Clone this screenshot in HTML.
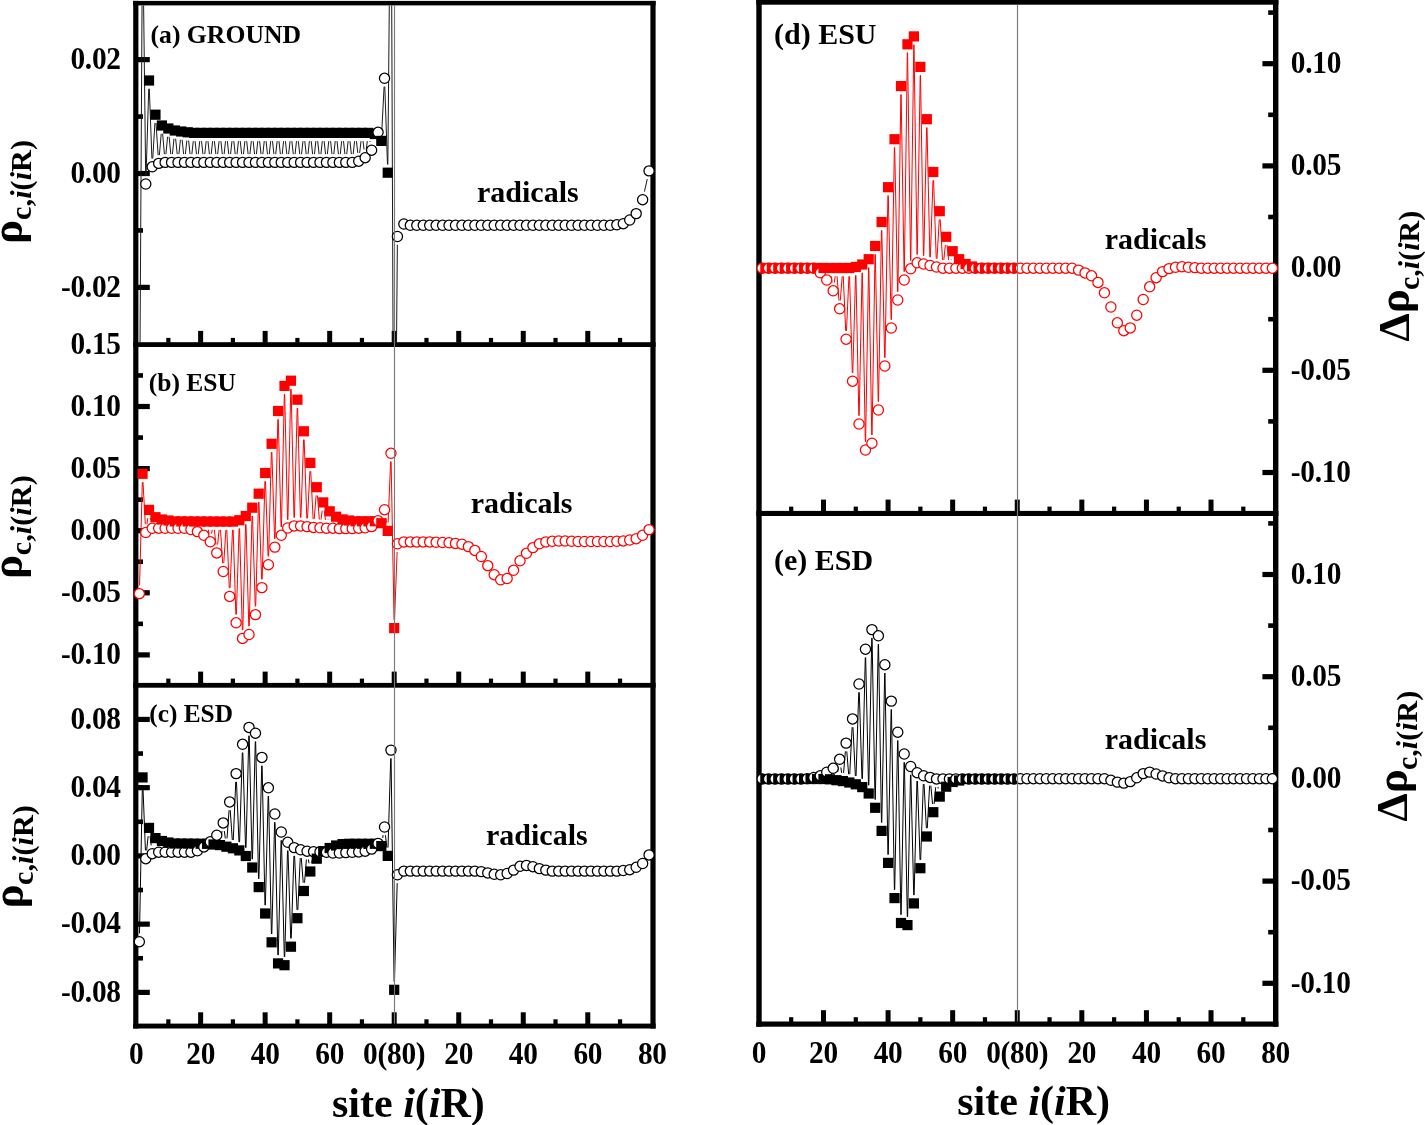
<!DOCTYPE html>
<html><head><meta charset="utf-8"><title>figure</title><style>html,body{margin:0;padding:0;background:#fff;overflow:hidden}svg{display:block}</style></head><body>
<svg width="1425" height="1125" viewBox="0 0 1425 1125" font-family="'Liberation Serif', 'Times New Roman', serif" font-weight="bold">
<rect width="100%" height="100%" fill="#fff"/>
<defs>
<clipPath id="ca"><rect x="133.2" y="5.4" width="522.4000000000001" height="336.8"/></clipPath>
<clipPath id="cb"><rect x="133.2" y="347.0" width="522.4000000000001" height="335.9"/></clipPath>
<clipPath id="cc"><rect x="133.2" y="687.7" width="522.4000000000001" height="335.9"/></clipPath>
<clipPath id="cd"><rect x="756.3" y="4.7" width="522.1000000000001" height="506.2"/></clipPath>
<clipPath id="ce"><rect x="756.3" y="516.0" width="522.1000000000001" height="505.5"/></clipPath>
</defs>
<rect x="133.20" y="0.90" width="5.20" height="1027.60" fill="#000"/>
<rect x="650.40" y="0.90" width="5.20" height="1027.60" fill="#000"/>
<rect x="133.20" y="0.90" width="522.40" height="4.50" fill="#000"/>
<rect x="133.20" y="342.20" width="522.40" height="4.80" fill="#000"/>
<rect x="133.20" y="682.90" width="522.40" height="4.80" fill="#000"/>
<rect x="133.20" y="1023.60" width="522.40" height="4.90" fill="#000"/>
<rect x="756.30" y="0.00" width="5.40" height="1026.70" fill="#000"/>
<rect x="1273.00" y="0.00" width="5.40" height="1026.70" fill="#000"/>
<rect x="756.30" y="0.00" width="522.10" height="4.70" fill="#000"/>
<rect x="756.30" y="510.90" width="522.10" height="5.10" fill="#000"/>
<rect x="756.30" y="1021.50" width="522.10" height="5.20" fill="#000"/>
<rect x="166.26" y="337.90" width="4.20" height="4.80" fill="#000"/>
<rect x="198.13" y="330.90" width="5.00" height="11.80" fill="#000"/>
<rect x="230.79" y="337.90" width="4.20" height="4.80" fill="#000"/>
<rect x="262.65" y="330.90" width="5.00" height="11.80" fill="#000"/>
<rect x="295.31" y="337.90" width="4.20" height="4.80" fill="#000"/>
<rect x="327.18" y="330.90" width="5.00" height="11.80" fill="#000"/>
<rect x="359.84" y="337.90" width="4.20" height="4.80" fill="#000"/>
<rect x="391.70" y="330.90" width="5.00" height="11.80" fill="#000"/>
<rect x="424.37" y="337.90" width="4.20" height="4.80" fill="#000"/>
<rect x="456.23" y="330.90" width="5.00" height="11.80" fill="#000"/>
<rect x="488.89" y="337.90" width="4.20" height="4.80" fill="#000"/>
<rect x="520.76" y="330.90" width="5.00" height="11.80" fill="#000"/>
<rect x="553.42" y="337.90" width="4.20" height="4.80" fill="#000"/>
<rect x="585.28" y="330.90" width="5.00" height="11.80" fill="#000"/>
<rect x="617.95" y="337.90" width="4.20" height="4.80" fill="#000"/>
<rect x="166.26" y="678.60" width="4.20" height="4.80" fill="#000"/>
<rect x="198.13" y="671.60" width="5.00" height="11.80" fill="#000"/>
<rect x="230.79" y="678.60" width="4.20" height="4.80" fill="#000"/>
<rect x="262.65" y="671.60" width="5.00" height="11.80" fill="#000"/>
<rect x="295.31" y="678.60" width="4.20" height="4.80" fill="#000"/>
<rect x="327.18" y="671.60" width="5.00" height="11.80" fill="#000"/>
<rect x="359.84" y="678.60" width="4.20" height="4.80" fill="#000"/>
<rect x="391.70" y="671.60" width="5.00" height="11.80" fill="#000"/>
<rect x="424.37" y="678.60" width="4.20" height="4.80" fill="#000"/>
<rect x="456.23" y="671.60" width="5.00" height="11.80" fill="#000"/>
<rect x="488.89" y="678.60" width="4.20" height="4.80" fill="#000"/>
<rect x="520.76" y="671.60" width="5.00" height="11.80" fill="#000"/>
<rect x="553.42" y="678.60" width="4.20" height="4.80" fill="#000"/>
<rect x="585.28" y="671.60" width="5.00" height="11.80" fill="#000"/>
<rect x="617.95" y="678.60" width="4.20" height="4.80" fill="#000"/>
<rect x="166.26" y="1019.30" width="4.20" height="4.80" fill="#000"/>
<rect x="198.13" y="1012.30" width="5.00" height="11.80" fill="#000"/>
<rect x="230.79" y="1019.30" width="4.20" height="4.80" fill="#000"/>
<rect x="262.65" y="1012.30" width="5.00" height="11.80" fill="#000"/>
<rect x="295.31" y="1019.30" width="4.20" height="4.80" fill="#000"/>
<rect x="327.18" y="1012.30" width="5.00" height="11.80" fill="#000"/>
<rect x="359.84" y="1019.30" width="4.20" height="4.80" fill="#000"/>
<rect x="391.70" y="1012.30" width="5.00" height="11.80" fill="#000"/>
<rect x="424.37" y="1019.30" width="4.20" height="4.80" fill="#000"/>
<rect x="456.23" y="1012.30" width="5.00" height="11.80" fill="#000"/>
<rect x="488.89" y="1019.30" width="4.20" height="4.80" fill="#000"/>
<rect x="520.76" y="1012.30" width="5.00" height="11.80" fill="#000"/>
<rect x="553.42" y="1019.30" width="4.20" height="4.80" fill="#000"/>
<rect x="585.28" y="1012.30" width="5.00" height="11.80" fill="#000"/>
<rect x="617.95" y="1019.30" width="4.20" height="4.80" fill="#000"/>
<rect x="789.09" y="506.60" width="4.20" height="4.80" fill="#000"/>
<rect x="820.99" y="499.60" width="5.00" height="11.80" fill="#000"/>
<rect x="853.68" y="506.60" width="4.20" height="4.80" fill="#000"/>
<rect x="885.58" y="499.60" width="5.00" height="11.80" fill="#000"/>
<rect x="918.27" y="506.60" width="4.20" height="4.80" fill="#000"/>
<rect x="950.16" y="499.60" width="5.00" height="11.80" fill="#000"/>
<rect x="982.86" y="506.60" width="4.20" height="4.80" fill="#000"/>
<rect x="1014.75" y="499.60" width="5.00" height="11.80" fill="#000"/>
<rect x="1047.45" y="506.60" width="4.20" height="4.80" fill="#000"/>
<rect x="1079.34" y="499.60" width="5.00" height="11.80" fill="#000"/>
<rect x="1112.03" y="506.60" width="4.20" height="4.80" fill="#000"/>
<rect x="1143.93" y="499.60" width="5.00" height="11.80" fill="#000"/>
<rect x="1176.62" y="506.60" width="4.20" height="4.80" fill="#000"/>
<rect x="1208.52" y="499.60" width="5.00" height="11.80" fill="#000"/>
<rect x="1241.21" y="506.60" width="4.20" height="4.80" fill="#000"/>
<rect x="789.09" y="1017.20" width="4.20" height="4.80" fill="#000"/>
<rect x="820.99" y="1010.20" width="5.00" height="11.80" fill="#000"/>
<rect x="853.68" y="1017.20" width="4.20" height="4.80" fill="#000"/>
<rect x="885.58" y="1010.20" width="5.00" height="11.80" fill="#000"/>
<rect x="918.27" y="1017.20" width="4.20" height="4.80" fill="#000"/>
<rect x="950.16" y="1010.20" width="5.00" height="11.80" fill="#000"/>
<rect x="982.86" y="1017.20" width="4.20" height="4.80" fill="#000"/>
<rect x="1014.75" y="1010.20" width="5.00" height="11.80" fill="#000"/>
<rect x="1047.45" y="1017.20" width="4.20" height="4.80" fill="#000"/>
<rect x="1079.34" y="1010.20" width="5.00" height="11.80" fill="#000"/>
<rect x="1112.03" y="1017.20" width="4.20" height="4.80" fill="#000"/>
<rect x="1143.93" y="1010.20" width="5.00" height="11.80" fill="#000"/>
<rect x="1176.62" y="1017.20" width="4.20" height="4.80" fill="#000"/>
<rect x="1208.52" y="1010.20" width="5.00" height="11.80" fill="#000"/>
<rect x="1241.21" y="1017.20" width="4.20" height="4.80" fill="#000"/>
<rect x="137.90" y="57.02" width="11.90" height="5.20" fill="#000"/>
<rect x="137.90" y="170.90" width="11.90" height="5.20" fill="#000"/>
<rect x="137.90" y="284.78" width="11.90" height="5.20" fill="#000"/>
<rect x="137.90" y="114.26" width="5.10" height="4.60" fill="#000"/>
<rect x="137.90" y="228.14" width="5.10" height="4.60" fill="#000"/>
<rect x="137.90" y="403.90" width="11.90" height="5.20" fill="#000"/>
<rect x="137.90" y="466.00" width="11.90" height="5.20" fill="#000"/>
<rect x="137.90" y="528.10" width="11.90" height="5.20" fill="#000"/>
<rect x="137.90" y="590.20" width="11.90" height="5.20" fill="#000"/>
<rect x="137.90" y="652.30" width="11.90" height="5.20" fill="#000"/>
<rect x="137.90" y="373.15" width="5.10" height="4.60" fill="#000"/>
<rect x="137.90" y="435.25" width="5.10" height="4.60" fill="#000"/>
<rect x="137.90" y="497.35" width="5.10" height="4.60" fill="#000"/>
<rect x="137.90" y="559.45" width="5.10" height="4.60" fill="#000"/>
<rect x="137.90" y="621.55" width="5.10" height="4.60" fill="#000"/>
<rect x="137.90" y="716.82" width="11.90" height="5.20" fill="#000"/>
<rect x="137.90" y="785.06" width="11.90" height="5.20" fill="#000"/>
<rect x="137.90" y="853.30" width="11.90" height="5.20" fill="#000"/>
<rect x="137.90" y="921.54" width="11.90" height="5.20" fill="#000"/>
<rect x="137.90" y="989.78" width="11.90" height="5.20" fill="#000"/>
<rect x="137.90" y="751.24" width="5.10" height="4.60" fill="#000"/>
<rect x="137.90" y="819.48" width="5.10" height="4.60" fill="#000"/>
<rect x="137.90" y="887.72" width="5.10" height="4.60" fill="#000"/>
<rect x="137.90" y="955.96" width="5.10" height="4.60" fill="#000"/>
<rect x="1262.40" y="61.10" width="11.10" height="5.20" fill="#000"/>
<rect x="1262.40" y="163.30" width="11.10" height="5.20" fill="#000"/>
<rect x="1262.40" y="265.50" width="11.10" height="5.20" fill="#000"/>
<rect x="1262.40" y="367.70" width="11.10" height="5.20" fill="#000"/>
<rect x="1262.40" y="469.90" width="11.10" height="5.20" fill="#000"/>
<rect x="1268.20" y="10.30" width="5.30" height="4.60" fill="#000"/>
<rect x="1268.20" y="112.50" width="5.30" height="4.60" fill="#000"/>
<rect x="1268.20" y="214.70" width="5.30" height="4.60" fill="#000"/>
<rect x="1268.20" y="316.90" width="5.30" height="4.60" fill="#000"/>
<rect x="1268.20" y="419.10" width="5.30" height="4.60" fill="#000"/>
<rect x="1262.40" y="571.90" width="11.10" height="5.20" fill="#000"/>
<rect x="1262.40" y="674.10" width="11.10" height="5.20" fill="#000"/>
<rect x="1262.40" y="776.30" width="11.10" height="5.20" fill="#000"/>
<rect x="1262.40" y="878.50" width="11.10" height="5.20" fill="#000"/>
<rect x="1262.40" y="980.70" width="11.10" height="5.20" fill="#000"/>
<rect x="1268.20" y="521.10" width="5.30" height="4.60" fill="#000"/>
<rect x="1268.20" y="623.30" width="5.30" height="4.60" fill="#000"/>
<rect x="1268.20" y="725.50" width="5.30" height="4.60" fill="#000"/>
<rect x="1268.20" y="827.70" width="5.30" height="4.60" fill="#000"/>
<rect x="1268.20" y="929.90" width="5.30" height="4.60" fill="#000"/>
<g clip-path="url(#ca)">
<path d="M139.38,456.16L142.50,-73.86M142.65,-73.86L145.68,175.70M146.04,175.70L148.75,88.80M149.32,88.79L151.92,158.51M152.74,158.52L154.94,122.98M156.01,122.98L158.14,155.12M159.39,155.13L161.21,133.77M162.63,133.77L164.41,154.13M165.92,154.14L167.58,136.76M169.15,136.76L170.80,154.14M172.42,154.14L173.98,138.76M175.65,138.76L177.21,154.14M178.90,154.14L180.41,139.76M182.13,139.76L183.63,154.14M185.38,154.15L186.84,140.55M188.61,140.55L190.06,154.15M191.85,154.15L193.27,141.15M195.08,141.15L196.50,154.15M198.30,154.15L199.72,141.15M201.53,141.15L202.95,154.15M204.75,154.15L206.18,141.15M207.98,141.15L209.40,154.15M211.21,154.15L212.63,141.15M214.43,141.15L215.86,154.15M217.66,154.15L219.08,141.15M220.89,141.15L222.31,154.15M224.11,154.15L225.53,141.15M227.34,141.15L228.76,154.15M230.57,154.15L231.99,141.15M233.79,141.15L235.21,154.15M237.02,154.15L238.44,141.15M240.24,141.15L241.67,154.15M243.47,154.15L244.89,141.15M246.70,141.15L248.12,154.15M249.92,154.15L251.34,141.15M253.15,141.15L254.57,154.15M256.38,154.15L257.80,141.15M259.60,141.15L261.02,154.15M262.83,154.15L264.25,141.15M266.05,141.15L267.48,154.15M269.28,154.15L270.70,141.15M272.51,141.15L273.93,154.15M275.73,154.15L277.15,141.15M278.96,141.15L280.38,154.15M282.19,154.15L283.61,141.15M285.41,141.15L286.83,154.15M288.64,154.15L290.06,141.15M291.86,141.15L293.29,154.15M295.09,154.15L296.51,141.15M298.32,141.15L299.74,154.15M301.54,154.15L302.97,141.15M304.77,141.15L306.19,154.15M308.00,154.15L309.42,141.15M311.22,141.15L312.64,154.15M314.45,154.15L315.87,141.15M317.68,141.15L319.10,154.15M320.90,154.15L322.32,141.15M324.13,141.15L325.55,154.15M327.35,154.15L328.78,141.15M330.58,141.15L332.00,154.15M333.81,154.15L335.23,141.15M337.03,141.15L338.45,154.15M340.26,154.15L341.68,141.15M343.49,141.15L344.91,154.15M346.71,154.15L348.13,141.15M349.94,141.15L351.36,154.15M353.16,154.15L354.59,141.15M356.43,141.15L357.77,152.95M359.65,152.95L361.00,141.15M363.01,141.13L364.10,149.47M366.24,149.47L367.32,141.13M369.92,141.06L370.10,142.04M381.73,132.61L384.10,86.59M384.81,86.60L387.47,164.40M387.83,164.40L390.90,-167.81M391.01,-167.81L394.17,614.46M394.27,614.46L397.36,244.80M644.44,191.60L647.27,179.00" fill="none" stroke="#1a1a1a" stroke-width="1.0" stroke-linecap="butt"/>
<circle cx="139.33" cy="464.46" r="5.1" fill="#fff" stroke="#000" stroke-width="1.25"/>
<rect x="137.45" y="-87.26" width="10.2" height="10.2" fill="#000"/>
<circle cx="145.78" cy="184.00" r="5.1" fill="#fff" stroke="#000" stroke-width="1.25"/>
<rect x="143.91" y="75.40" width="10.2" height="10.2" fill="#000"/>
<circle cx="152.23" cy="166.80" r="5.1" fill="#fff" stroke="#000" stroke-width="1.25"/>
<rect x="150.36" y="109.60" width="10.2" height="10.2" fill="#000"/>
<circle cx="158.68" cy="163.40" r="5.1" fill="#fff" stroke="#000" stroke-width="1.25"/>
<rect x="156.81" y="120.40" width="10.2" height="10.2" fill="#000"/>
<circle cx="165.14" cy="162.40" r="5.1" fill="#fff" stroke="#000" stroke-width="1.25"/>
<rect x="163.26" y="123.40" width="10.2" height="10.2" fill="#000"/>
<circle cx="171.59" cy="162.40" r="5.1" fill="#fff" stroke="#000" stroke-width="1.25"/>
<rect x="169.72" y="125.40" width="10.2" height="10.2" fill="#000"/>
<circle cx="178.04" cy="162.40" r="5.1" fill="#fff" stroke="#000" stroke-width="1.25"/>
<rect x="176.17" y="126.40" width="10.2" height="10.2" fill="#000"/>
<circle cx="184.49" cy="162.40" r="5.1" fill="#fff" stroke="#000" stroke-width="1.25"/>
<rect x="182.62" y="127.20" width="10.2" height="10.2" fill="#000"/>
<circle cx="190.95" cy="162.40" r="5.1" fill="#fff" stroke="#000" stroke-width="1.25"/>
<rect x="189.07" y="127.80" width="10.2" height="10.2" fill="#000"/>
<circle cx="197.40" cy="162.40" r="5.1" fill="#fff" stroke="#000" stroke-width="1.25"/>
<rect x="195.53" y="127.80" width="10.2" height="10.2" fill="#000"/>
<circle cx="203.85" cy="162.40" r="5.1" fill="#fff" stroke="#000" stroke-width="1.25"/>
<rect x="201.98" y="127.80" width="10.2" height="10.2" fill="#000"/>
<circle cx="210.30" cy="162.40" r="5.1" fill="#fff" stroke="#000" stroke-width="1.25"/>
<rect x="208.43" y="127.80" width="10.2" height="10.2" fill="#000"/>
<circle cx="216.76" cy="162.40" r="5.1" fill="#fff" stroke="#000" stroke-width="1.25"/>
<rect x="214.88" y="127.80" width="10.2" height="10.2" fill="#000"/>
<circle cx="223.21" cy="162.40" r="5.1" fill="#fff" stroke="#000" stroke-width="1.25"/>
<rect x="221.34" y="127.80" width="10.2" height="10.2" fill="#000"/>
<circle cx="229.66" cy="162.40" r="5.1" fill="#fff" stroke="#000" stroke-width="1.25"/>
<rect x="227.79" y="127.80" width="10.2" height="10.2" fill="#000"/>
<circle cx="236.12" cy="162.40" r="5.1" fill="#fff" stroke="#000" stroke-width="1.25"/>
<rect x="234.24" y="127.80" width="10.2" height="10.2" fill="#000"/>
<circle cx="242.57" cy="162.40" r="5.1" fill="#fff" stroke="#000" stroke-width="1.25"/>
<rect x="240.69" y="127.80" width="10.2" height="10.2" fill="#000"/>
<circle cx="249.02" cy="162.40" r="5.1" fill="#fff" stroke="#000" stroke-width="1.25"/>
<rect x="247.15" y="127.80" width="10.2" height="10.2" fill="#000"/>
<circle cx="255.47" cy="162.40" r="5.1" fill="#fff" stroke="#000" stroke-width="1.25"/>
<rect x="253.60" y="127.80" width="10.2" height="10.2" fill="#000"/>
<circle cx="261.93" cy="162.40" r="5.1" fill="#fff" stroke="#000" stroke-width="1.25"/>
<rect x="260.05" y="127.80" width="10.2" height="10.2" fill="#000"/>
<circle cx="268.38" cy="162.40" r="5.1" fill="#fff" stroke="#000" stroke-width="1.25"/>
<rect x="266.50" y="127.80" width="10.2" height="10.2" fill="#000"/>
<circle cx="274.83" cy="162.40" r="5.1" fill="#fff" stroke="#000" stroke-width="1.25"/>
<rect x="272.96" y="127.80" width="10.2" height="10.2" fill="#000"/>
<circle cx="281.28" cy="162.40" r="5.1" fill="#fff" stroke="#000" stroke-width="1.25"/>
<rect x="279.41" y="127.80" width="10.2" height="10.2" fill="#000"/>
<circle cx="287.74" cy="162.40" r="5.1" fill="#fff" stroke="#000" stroke-width="1.25"/>
<rect x="285.86" y="127.80" width="10.2" height="10.2" fill="#000"/>
<circle cx="294.19" cy="162.40" r="5.1" fill="#fff" stroke="#000" stroke-width="1.25"/>
<rect x="292.31" y="127.80" width="10.2" height="10.2" fill="#000"/>
<circle cx="300.64" cy="162.40" r="5.1" fill="#fff" stroke="#000" stroke-width="1.25"/>
<rect x="298.77" y="127.80" width="10.2" height="10.2" fill="#000"/>
<circle cx="307.09" cy="162.40" r="5.1" fill="#fff" stroke="#000" stroke-width="1.25"/>
<rect x="305.22" y="127.80" width="10.2" height="10.2" fill="#000"/>
<circle cx="313.55" cy="162.40" r="5.1" fill="#fff" stroke="#000" stroke-width="1.25"/>
<rect x="311.67" y="127.80" width="10.2" height="10.2" fill="#000"/>
<circle cx="320.00" cy="162.40" r="5.1" fill="#fff" stroke="#000" stroke-width="1.25"/>
<rect x="318.13" y="127.80" width="10.2" height="10.2" fill="#000"/>
<circle cx="326.45" cy="162.40" r="5.1" fill="#fff" stroke="#000" stroke-width="1.25"/>
<rect x="324.58" y="127.80" width="10.2" height="10.2" fill="#000"/>
<circle cx="332.90" cy="162.40" r="5.1" fill="#fff" stroke="#000" stroke-width="1.25"/>
<rect x="331.03" y="127.80" width="10.2" height="10.2" fill="#000"/>
<circle cx="339.36" cy="162.40" r="5.1" fill="#fff" stroke="#000" stroke-width="1.25"/>
<rect x="337.48" y="127.80" width="10.2" height="10.2" fill="#000"/>
<circle cx="345.81" cy="162.40" r="5.1" fill="#fff" stroke="#000" stroke-width="1.25"/>
<rect x="343.94" y="127.80" width="10.2" height="10.2" fill="#000"/>
<circle cx="352.26" cy="162.40" r="5.1" fill="#fff" stroke="#000" stroke-width="1.25"/>
<rect x="350.39" y="127.80" width="10.2" height="10.2" fill="#000"/>
<circle cx="358.71" cy="161.20" r="5.1" fill="#fff" stroke="#000" stroke-width="1.25"/>
<rect x="356.84" y="127.80" width="10.2" height="10.2" fill="#000"/>
<circle cx="365.17" cy="157.70" r="5.1" fill="#fff" stroke="#000" stroke-width="1.25"/>
<rect x="363.29" y="127.80" width="10.2" height="10.2" fill="#000"/>
<circle cx="371.62" cy="150.20" r="5.1" fill="#fff" stroke="#000" stroke-width="1.25"/>
<rect x="369.75" y="128.90" width="10.2" height="10.2" fill="#000"/>
<circle cx="378.07" cy="132.30" r="5.1" fill="#fff" stroke="#000" stroke-width="1.25"/>
<rect x="376.20" y="135.80" width="10.2" height="10.2" fill="#000"/>
<circle cx="384.53" cy="78.30" r="5.1" fill="#fff" stroke="#000" stroke-width="1.25"/>
<rect x="382.65" y="167.60" width="10.2" height="10.2" fill="#000"/>
<circle cx="390.98" cy="-176.11" r="5.1" fill="#fff" stroke="#000" stroke-width="1.25"/>
<rect x="389.10" y="617.66" width="10.2" height="10.2" fill="#000"/>
<circle cx="397.43" cy="236.50" r="5.1" fill="#fff" stroke="#000" stroke-width="1.25"/>
<circle cx="403.88" cy="224.00" r="5.1" fill="#fff" stroke="#000" stroke-width="1.25"/>
<circle cx="410.34" cy="225.30" r="5.1" fill="#fff" stroke="#000" stroke-width="1.25"/>
<circle cx="416.79" cy="225.30" r="5.1" fill="#fff" stroke="#000" stroke-width="1.25"/>
<circle cx="423.24" cy="225.30" r="5.1" fill="#fff" stroke="#000" stroke-width="1.25"/>
<circle cx="429.69" cy="225.30" r="5.1" fill="#fff" stroke="#000" stroke-width="1.25"/>
<circle cx="436.15" cy="225.30" r="5.1" fill="#fff" stroke="#000" stroke-width="1.25"/>
<circle cx="442.60" cy="225.30" r="5.1" fill="#fff" stroke="#000" stroke-width="1.25"/>
<circle cx="449.05" cy="225.30" r="5.1" fill="#fff" stroke="#000" stroke-width="1.25"/>
<circle cx="455.50" cy="225.30" r="5.1" fill="#fff" stroke="#000" stroke-width="1.25"/>
<circle cx="461.96" cy="225.30" r="5.1" fill="#fff" stroke="#000" stroke-width="1.25"/>
<circle cx="468.41" cy="225.30" r="5.1" fill="#fff" stroke="#000" stroke-width="1.25"/>
<circle cx="474.86" cy="225.30" r="5.1" fill="#fff" stroke="#000" stroke-width="1.25"/>
<circle cx="481.31" cy="225.30" r="5.1" fill="#fff" stroke="#000" stroke-width="1.25"/>
<circle cx="487.77" cy="225.30" r="5.1" fill="#fff" stroke="#000" stroke-width="1.25"/>
<circle cx="494.22" cy="225.30" r="5.1" fill="#fff" stroke="#000" stroke-width="1.25"/>
<circle cx="500.67" cy="225.30" r="5.1" fill="#fff" stroke="#000" stroke-width="1.25"/>
<circle cx="507.12" cy="225.30" r="5.1" fill="#fff" stroke="#000" stroke-width="1.25"/>
<circle cx="513.58" cy="225.30" r="5.1" fill="#fff" stroke="#000" stroke-width="1.25"/>
<circle cx="520.03" cy="225.30" r="5.1" fill="#fff" stroke="#000" stroke-width="1.25"/>
<circle cx="526.48" cy="225.30" r="5.1" fill="#fff" stroke="#000" stroke-width="1.25"/>
<circle cx="532.93" cy="225.30" r="5.1" fill="#fff" stroke="#000" stroke-width="1.25"/>
<circle cx="539.39" cy="225.30" r="5.1" fill="#fff" stroke="#000" stroke-width="1.25"/>
<circle cx="545.84" cy="225.30" r="5.1" fill="#fff" stroke="#000" stroke-width="1.25"/>
<circle cx="552.29" cy="225.30" r="5.1" fill="#fff" stroke="#000" stroke-width="1.25"/>
<circle cx="558.75" cy="225.30" r="5.1" fill="#fff" stroke="#000" stroke-width="1.25"/>
<circle cx="565.20" cy="225.30" r="5.1" fill="#fff" stroke="#000" stroke-width="1.25"/>
<circle cx="571.65" cy="225.30" r="5.1" fill="#fff" stroke="#000" stroke-width="1.25"/>
<circle cx="578.10" cy="225.30" r="5.1" fill="#fff" stroke="#000" stroke-width="1.25"/>
<circle cx="584.56" cy="225.30" r="5.1" fill="#fff" stroke="#000" stroke-width="1.25"/>
<circle cx="591.01" cy="225.30" r="5.1" fill="#fff" stroke="#000" stroke-width="1.25"/>
<circle cx="597.46" cy="225.30" r="5.1" fill="#fff" stroke="#000" stroke-width="1.25"/>
<circle cx="603.91" cy="225.30" r="5.1" fill="#fff" stroke="#000" stroke-width="1.25"/>
<circle cx="610.37" cy="225.30" r="5.1" fill="#fff" stroke="#000" stroke-width="1.25"/>
<circle cx="616.82" cy="224.80" r="5.1" fill="#fff" stroke="#000" stroke-width="1.25"/>
<circle cx="623.27" cy="223.70" r="5.1" fill="#fff" stroke="#000" stroke-width="1.25"/>
<circle cx="629.72" cy="220.00" r="5.1" fill="#fff" stroke="#000" stroke-width="1.25"/>
<circle cx="636.18" cy="213.60" r="5.1" fill="#fff" stroke="#000" stroke-width="1.25"/>
<circle cx="642.63" cy="199.70" r="5.1" fill="#fff" stroke="#000" stroke-width="1.25"/>
<circle cx="649.08" cy="170.90" r="5.1" fill="#fff" stroke="#000" stroke-width="1.25"/>
</g>
<g clip-path="url(#cb)">
<path d="M139.55,585.30L142.33,482.10M143.01,482.09L145.32,524.21M146.95,524.28L147.83,518.12M150.44,518.08L150.80,520.12M208.38,529.71L209.00,533.60M211.61,533.60L212.23,529.73M214.38,529.79L215.91,544.64M217.61,544.64L219.13,529.81M220.52,529.84L222.68,563.22M223.75,563.22L225.90,529.86M226.79,529.87L229.31,588.11M230.02,588.11L232.53,529.89M233.15,529.90L235.85,614.50M236.38,614.50L239.08,528.50M239.57,528.50L242.34,630.10M242.79,630.10L245.58,524.30M246.02,524.30L248.79,626.20M249.23,626.20L252.04,516.00M252.50,516.00L255.22,606.30M255.69,606.30L258.48,502.00M258.98,502.00L261.64,579.30M262.16,579.30L264.92,481.30M265.44,481.29L268.09,556.41M268.60,556.40L271.38,452.10M271.86,452.10L274.57,538.80M275.03,538.80L277.86,419.30M278.27,419.30L281.07,527.00M281.46,527.00L284.33,394.20M284.70,394.20L287.55,519.70M287.92,519.70L290.78,389.00M291.15,389.00L294.00,517.60M294.40,517.60L297.20,408.00M297.63,408.00L300.43,517.60M300.92,517.60L303.58,439.60M304.15,439.60L306.81,518.30M307.51,518.31L309.90,471.19M310.73,471.19L313.13,519.11M314.21,519.13L316.11,495.47M317.43,495.47L319.34,519.53M321.04,519.57L322.18,510.63M324.26,510.64L325.42,519.96M328.01,520.05L328.12,519.45M331.23,519.45L331.35,520.05M385.77,517.91L386.50,522.69M388.10,522.61L390.63,461.59M391.13,461.60L394.05,619.80M394.52,619.81L397.11,552.09" fill="none" stroke="#ff0000" stroke-width="1.0" stroke-linecap="butt"/>
<circle cx="139.33" cy="593.60" r="5.1" fill="#fff" stroke="#ff0000" stroke-width="1.25"/>
<rect x="137.45" y="468.70" width="10.2" height="10.2" fill="#ff0000"/>
<circle cx="145.78" cy="532.50" r="5.1" fill="#fff" stroke="#ff0000" stroke-width="1.25"/>
<rect x="143.91" y="504.80" width="10.2" height="10.2" fill="#ff0000"/>
<circle cx="152.23" cy="528.30" r="5.1" fill="#fff" stroke="#ff0000" stroke-width="1.25"/>
<rect x="150.36" y="512.10" width="10.2" height="10.2" fill="#ff0000"/>
<circle cx="158.68" cy="528.20" r="5.1" fill="#fff" stroke="#ff0000" stroke-width="1.25"/>
<rect x="156.81" y="514.40" width="10.2" height="10.2" fill="#ff0000"/>
<circle cx="165.14" cy="528.23" r="5.1" fill="#fff" stroke="#ff0000" stroke-width="1.25"/>
<rect x="163.26" y="515.40" width="10.2" height="10.2" fill="#ff0000"/>
<circle cx="171.59" cy="528.25" r="5.1" fill="#fff" stroke="#ff0000" stroke-width="1.25"/>
<rect x="169.72" y="516.30" width="10.2" height="10.2" fill="#ff0000"/>
<circle cx="178.04" cy="528.27" r="5.1" fill="#fff" stroke="#ff0000" stroke-width="1.25"/>
<rect x="176.17" y="516.32" width="10.2" height="10.2" fill="#ff0000"/>
<circle cx="184.49" cy="528.30" r="5.1" fill="#fff" stroke="#ff0000" stroke-width="1.25"/>
<rect x="182.62" y="516.34" width="10.2" height="10.2" fill="#ff0000"/>
<circle cx="190.95" cy="529.50" r="5.1" fill="#fff" stroke="#ff0000" stroke-width="1.25"/>
<rect x="189.07" y="516.37" width="10.2" height="10.2" fill="#ff0000"/>
<circle cx="197.40" cy="531.60" r="5.1" fill="#fff" stroke="#ff0000" stroke-width="1.25"/>
<rect x="195.53" y="516.39" width="10.2" height="10.2" fill="#ff0000"/>
<circle cx="203.85" cy="535.30" r="5.1" fill="#fff" stroke="#ff0000" stroke-width="1.25"/>
<rect x="201.98" y="516.41" width="10.2" height="10.2" fill="#ff0000"/>
<circle cx="210.30" cy="541.80" r="5.1" fill="#fff" stroke="#ff0000" stroke-width="1.25"/>
<rect x="208.43" y="516.43" width="10.2" height="10.2" fill="#ff0000"/>
<circle cx="216.76" cy="552.90" r="5.1" fill="#fff" stroke="#ff0000" stroke-width="1.25"/>
<rect x="214.88" y="516.46" width="10.2" height="10.2" fill="#ff0000"/>
<circle cx="223.21" cy="571.50" r="5.1" fill="#fff" stroke="#ff0000" stroke-width="1.25"/>
<rect x="221.34" y="516.48" width="10.2" height="10.2" fill="#ff0000"/>
<circle cx="229.66" cy="596.40" r="5.1" fill="#fff" stroke="#ff0000" stroke-width="1.25"/>
<rect x="227.79" y="516.50" width="10.2" height="10.2" fill="#ff0000"/>
<circle cx="236.12" cy="622.80" r="5.1" fill="#fff" stroke="#ff0000" stroke-width="1.25"/>
<rect x="234.24" y="515.10" width="10.2" height="10.2" fill="#ff0000"/>
<circle cx="242.57" cy="638.40" r="5.1" fill="#fff" stroke="#ff0000" stroke-width="1.25"/>
<rect x="240.69" y="510.90" width="10.2" height="10.2" fill="#ff0000"/>
<circle cx="249.02" cy="634.50" r="5.1" fill="#fff" stroke="#ff0000" stroke-width="1.25"/>
<rect x="247.15" y="502.60" width="10.2" height="10.2" fill="#ff0000"/>
<circle cx="255.47" cy="614.60" r="5.1" fill="#fff" stroke="#ff0000" stroke-width="1.25"/>
<rect x="253.60" y="488.60" width="10.2" height="10.2" fill="#ff0000"/>
<circle cx="261.93" cy="587.60" r="5.1" fill="#fff" stroke="#ff0000" stroke-width="1.25"/>
<rect x="260.05" y="467.90" width="10.2" height="10.2" fill="#ff0000"/>
<circle cx="268.38" cy="564.70" r="5.1" fill="#fff" stroke="#ff0000" stroke-width="1.25"/>
<rect x="266.50" y="438.70" width="10.2" height="10.2" fill="#ff0000"/>
<circle cx="274.83" cy="547.10" r="5.1" fill="#fff" stroke="#ff0000" stroke-width="1.25"/>
<rect x="272.96" y="405.90" width="10.2" height="10.2" fill="#ff0000"/>
<circle cx="281.28" cy="535.30" r="5.1" fill="#fff" stroke="#ff0000" stroke-width="1.25"/>
<rect x="279.41" y="380.80" width="10.2" height="10.2" fill="#ff0000"/>
<circle cx="287.74" cy="528.00" r="5.1" fill="#fff" stroke="#ff0000" stroke-width="1.25"/>
<rect x="285.86" y="375.60" width="10.2" height="10.2" fill="#ff0000"/>
<circle cx="294.19" cy="525.90" r="5.1" fill="#fff" stroke="#ff0000" stroke-width="1.25"/>
<rect x="292.31" y="394.60" width="10.2" height="10.2" fill="#ff0000"/>
<circle cx="300.64" cy="525.90" r="5.1" fill="#fff" stroke="#ff0000" stroke-width="1.25"/>
<rect x="298.77" y="426.20" width="10.2" height="10.2" fill="#ff0000"/>
<circle cx="307.09" cy="526.60" r="5.1" fill="#fff" stroke="#ff0000" stroke-width="1.25"/>
<rect x="305.22" y="457.80" width="10.2" height="10.2" fill="#ff0000"/>
<circle cx="313.55" cy="527.40" r="5.1" fill="#fff" stroke="#ff0000" stroke-width="1.25"/>
<rect x="311.67" y="482.10" width="10.2" height="10.2" fill="#ff0000"/>
<circle cx="320.00" cy="527.80" r="5.1" fill="#fff" stroke="#ff0000" stroke-width="1.25"/>
<rect x="318.13" y="497.30" width="10.2" height="10.2" fill="#ff0000"/>
<circle cx="326.45" cy="528.20" r="5.1" fill="#fff" stroke="#ff0000" stroke-width="1.25"/>
<rect x="324.58" y="506.20" width="10.2" height="10.2" fill="#ff0000"/>
<circle cx="332.90" cy="528.20" r="5.1" fill="#fff" stroke="#ff0000" stroke-width="1.25"/>
<rect x="331.03" y="511.60" width="10.2" height="10.2" fill="#ff0000"/>
<circle cx="339.36" cy="528.60" r="5.1" fill="#fff" stroke="#ff0000" stroke-width="1.25"/>
<rect x="337.48" y="514.30" width="10.2" height="10.2" fill="#ff0000"/>
<circle cx="345.81" cy="528.60" r="5.1" fill="#fff" stroke="#ff0000" stroke-width="1.25"/>
<rect x="343.94" y="515.40" width="10.2" height="10.2" fill="#ff0000"/>
<circle cx="352.26" cy="528.60" r="5.1" fill="#fff" stroke="#ff0000" stroke-width="1.25"/>
<rect x="350.39" y="516.20" width="10.2" height="10.2" fill="#ff0000"/>
<circle cx="358.71" cy="528.20" r="5.1" fill="#fff" stroke="#ff0000" stroke-width="1.25"/>
<rect x="356.84" y="516.20" width="10.2" height="10.2" fill="#ff0000"/>
<circle cx="365.17" cy="527.80" r="5.1" fill="#fff" stroke="#ff0000" stroke-width="1.25"/>
<rect x="363.29" y="516.20" width="10.2" height="10.2" fill="#ff0000"/>
<circle cx="371.62" cy="526.60" r="5.1" fill="#fff" stroke="#ff0000" stroke-width="1.25"/>
<rect x="369.75" y="516.20" width="10.2" height="10.2" fill="#ff0000"/>
<circle cx="378.07" cy="520.80" r="5.1" fill="#fff" stroke="#ff0000" stroke-width="1.25"/>
<rect x="376.20" y="518.10" width="10.2" height="10.2" fill="#ff0000"/>
<circle cx="384.53" cy="509.70" r="5.1" fill="#fff" stroke="#ff0000" stroke-width="1.25"/>
<rect x="382.65" y="525.80" width="10.2" height="10.2" fill="#ff0000"/>
<circle cx="390.98" cy="453.30" r="5.1" fill="#fff" stroke="#ff0000" stroke-width="1.25"/>
<rect x="389.10" y="623.00" width="10.2" height="10.2" fill="#ff0000"/>
<circle cx="397.43" cy="543.80" r="5.1" fill="#fff" stroke="#ff0000" stroke-width="1.25"/>
<circle cx="403.88" cy="541.90" r="5.1" fill="#fff" stroke="#ff0000" stroke-width="1.25"/>
<circle cx="410.34" cy="541.90" r="5.1" fill="#fff" stroke="#ff0000" stroke-width="1.25"/>
<circle cx="416.79" cy="541.90" r="5.1" fill="#fff" stroke="#ff0000" stroke-width="1.25"/>
<circle cx="423.24" cy="541.90" r="5.1" fill="#fff" stroke="#ff0000" stroke-width="1.25"/>
<circle cx="429.69" cy="541.90" r="5.1" fill="#fff" stroke="#ff0000" stroke-width="1.25"/>
<circle cx="436.15" cy="542.30" r="5.1" fill="#fff" stroke="#ff0000" stroke-width="1.25"/>
<circle cx="442.60" cy="542.50" r="5.1" fill="#fff" stroke="#ff0000" stroke-width="1.25"/>
<circle cx="449.05" cy="542.80" r="5.1" fill="#fff" stroke="#ff0000" stroke-width="1.25"/>
<circle cx="455.50" cy="543.40" r="5.1" fill="#fff" stroke="#ff0000" stroke-width="1.25"/>
<circle cx="461.96" cy="544.20" r="5.1" fill="#fff" stroke="#ff0000" stroke-width="1.25"/>
<circle cx="468.41" cy="546.60" r="5.1" fill="#fff" stroke="#ff0000" stroke-width="1.25"/>
<circle cx="474.86" cy="550.40" r="5.1" fill="#fff" stroke="#ff0000" stroke-width="1.25"/>
<circle cx="481.31" cy="556.50" r="5.1" fill="#fff" stroke="#ff0000" stroke-width="1.25"/>
<circle cx="487.77" cy="565.60" r="5.1" fill="#fff" stroke="#ff0000" stroke-width="1.25"/>
<circle cx="494.22" cy="574.70" r="5.1" fill="#fff" stroke="#ff0000" stroke-width="1.25"/>
<circle cx="500.67" cy="579.80" r="5.1" fill="#fff" stroke="#ff0000" stroke-width="1.25"/>
<circle cx="507.12" cy="578.50" r="5.1" fill="#fff" stroke="#ff0000" stroke-width="1.25"/>
<circle cx="513.58" cy="570.30" r="5.1" fill="#fff" stroke="#ff0000" stroke-width="1.25"/>
<circle cx="520.03" cy="560.80" r="5.1" fill="#fff" stroke="#ff0000" stroke-width="1.25"/>
<circle cx="526.48" cy="553.30" r="5.1" fill="#fff" stroke="#ff0000" stroke-width="1.25"/>
<circle cx="532.93" cy="547.60" r="5.1" fill="#fff" stroke="#ff0000" stroke-width="1.25"/>
<circle cx="539.39" cy="543.80" r="5.1" fill="#fff" stroke="#ff0000" stroke-width="1.25"/>
<circle cx="545.84" cy="541.90" r="5.1" fill="#fff" stroke="#ff0000" stroke-width="1.25"/>
<circle cx="552.29" cy="541.30" r="5.1" fill="#fff" stroke="#ff0000" stroke-width="1.25"/>
<circle cx="558.75" cy="541.00" r="5.1" fill="#fff" stroke="#ff0000" stroke-width="1.25"/>
<circle cx="565.20" cy="541.00" r="5.1" fill="#fff" stroke="#ff0000" stroke-width="1.25"/>
<circle cx="571.65" cy="541.30" r="5.1" fill="#fff" stroke="#ff0000" stroke-width="1.25"/>
<circle cx="578.10" cy="541.50" r="5.1" fill="#fff" stroke="#ff0000" stroke-width="1.25"/>
<circle cx="584.56" cy="541.50" r="5.1" fill="#fff" stroke="#ff0000" stroke-width="1.25"/>
<circle cx="591.01" cy="541.50" r="5.1" fill="#fff" stroke="#ff0000" stroke-width="1.25"/>
<circle cx="597.46" cy="541.50" r="5.1" fill="#fff" stroke="#ff0000" stroke-width="1.25"/>
<circle cx="603.91" cy="541.50" r="5.1" fill="#fff" stroke="#ff0000" stroke-width="1.25"/>
<circle cx="610.37" cy="541.50" r="5.1" fill="#fff" stroke="#ff0000" stroke-width="1.25"/>
<circle cx="616.82" cy="541.30" r="5.1" fill="#fff" stroke="#ff0000" stroke-width="1.25"/>
<circle cx="623.27" cy="540.90" r="5.1" fill="#fff" stroke="#ff0000" stroke-width="1.25"/>
<circle cx="629.72" cy="540.00" r="5.1" fill="#fff" stroke="#ff0000" stroke-width="1.25"/>
<circle cx="636.18" cy="538.70" r="5.1" fill="#fff" stroke="#ff0000" stroke-width="1.25"/>
<circle cx="642.63" cy="535.30" r="5.1" fill="#fff" stroke="#ff0000" stroke-width="1.25"/>
<circle cx="649.08" cy="529.60" r="5.1" fill="#fff" stroke="#ff0000" stroke-width="1.25"/>
</g>
<g clip-path="url(#cc)">
<path d="M139.49,933.40L142.39,785.70M142.88,785.69L145.45,850.41M146.64,850.45L148.14,836.15M150.04,836.14L151.20,845.46M221.18,836.89L222.02,831.11M224.33,831.12L225.32,838.48M227.03,838.42L229.07,810.18M230.24,810.18L232.31,840.02M233.25,840.01L235.76,781.89M236.46,781.89L238.99,842.11M239.59,842.10L242.32,752.60M242.81,752.60L245.55,847.70M246.00,847.70L248.81,735.70M249.21,735.70L252.06,859.20M252.45,859.20L255.27,741.50M255.65,741.50L258.53,878.80M258.91,878.80L261.72,765.70M262.10,765.70L264.98,905.20M265.36,905.20L268.17,796.10M268.55,796.10L271.43,934.00M271.81,934.00L274.62,822.30M275.01,822.30L277.88,955.10M278.26,955.10L281.08,840.30M281.48,840.30L284.31,956.90M284.73,956.90L287.52,850.60M287.99,850.60L290.71,938.40M291.23,938.40L293.92,855.90M294.57,855.89L297.04,909.91M297.81,909.91L300.25,858.09M301.29,858.07L303.22,882.73M304.54,882.73L306.42,859.47M308.40,859.40L309.02,863.30M311.65,863.31L312.22,859.79M382.68,837.92L383.14,835.18M385.45,835.25L386.83,847.65M388.00,847.60L390.72,758.40M391.09,758.40L394.09,981.50M394.44,981.50L397.20,883.10" fill="none" stroke="#000" stroke-width="1.0" stroke-linecap="butt"/>
<circle cx="139.33" cy="941.70" r="5.1" fill="#fff" stroke="#000" stroke-width="1.25"/>
<rect x="137.45" y="772.30" width="10.2" height="10.2" fill="#000"/>
<circle cx="145.78" cy="858.70" r="5.1" fill="#fff" stroke="#000" stroke-width="1.25"/>
<rect x="143.91" y="822.80" width="10.2" height="10.2" fill="#000"/>
<circle cx="152.23" cy="853.70" r="5.1" fill="#fff" stroke="#000" stroke-width="1.25"/>
<rect x="150.36" y="833.00" width="10.2" height="10.2" fill="#000"/>
<circle cx="158.68" cy="852.20" r="5.1" fill="#fff" stroke="#000" stroke-width="1.25"/>
<rect x="156.81" y="835.90" width="10.2" height="10.2" fill="#000"/>
<circle cx="165.14" cy="852.20" r="5.1" fill="#fff" stroke="#000" stroke-width="1.25"/>
<rect x="163.26" y="837.40" width="10.2" height="10.2" fill="#000"/>
<circle cx="171.59" cy="852.20" r="5.1" fill="#fff" stroke="#000" stroke-width="1.25"/>
<rect x="169.72" y="838.40" width="10.2" height="10.2" fill="#000"/>
<circle cx="178.04" cy="852.20" r="5.1" fill="#fff" stroke="#000" stroke-width="1.25"/>
<rect x="176.17" y="838.46" width="10.2" height="10.2" fill="#000"/>
<circle cx="184.49" cy="852.20" r="5.1" fill="#fff" stroke="#000" stroke-width="1.25"/>
<rect x="182.62" y="838.52" width="10.2" height="10.2" fill="#000"/>
<circle cx="190.95" cy="852.20" r="5.1" fill="#fff" stroke="#000" stroke-width="1.25"/>
<rect x="189.07" y="838.58" width="10.2" height="10.2" fill="#000"/>
<circle cx="197.40" cy="850.80" r="5.1" fill="#fff" stroke="#000" stroke-width="1.25"/>
<rect x="195.53" y="838.64" width="10.2" height="10.2" fill="#000"/>
<circle cx="203.85" cy="846.90" r="5.1" fill="#fff" stroke="#000" stroke-width="1.25"/>
<rect x="201.98" y="838.70" width="10.2" height="10.2" fill="#000"/>
<circle cx="210.30" cy="841.80" r="5.1" fill="#fff" stroke="#000" stroke-width="1.25"/>
<rect x="208.43" y="839.40" width="10.2" height="10.2" fill="#000"/>
<circle cx="216.76" cy="835.20" r="5.1" fill="#fff" stroke="#000" stroke-width="1.25"/>
<rect x="214.88" y="840.00" width="10.2" height="10.2" fill="#000"/>
<circle cx="223.21" cy="822.90" r="5.1" fill="#fff" stroke="#000" stroke-width="1.25"/>
<rect x="221.34" y="841.60" width="10.2" height="10.2" fill="#000"/>
<circle cx="229.66" cy="801.90" r="5.1" fill="#fff" stroke="#000" stroke-width="1.25"/>
<rect x="227.79" y="843.20" width="10.2" height="10.2" fill="#000"/>
<circle cx="236.12" cy="773.60" r="5.1" fill="#fff" stroke="#000" stroke-width="1.25"/>
<rect x="234.24" y="845.30" width="10.2" height="10.2" fill="#000"/>
<circle cx="242.57" cy="744.30" r="5.1" fill="#fff" stroke="#000" stroke-width="1.25"/>
<rect x="240.69" y="850.90" width="10.2" height="10.2" fill="#000"/>
<circle cx="249.02" cy="727.40" r="5.1" fill="#fff" stroke="#000" stroke-width="1.25"/>
<rect x="247.15" y="862.40" width="10.2" height="10.2" fill="#000"/>
<circle cx="255.47" cy="733.20" r="5.1" fill="#fff" stroke="#000" stroke-width="1.25"/>
<rect x="253.60" y="882.00" width="10.2" height="10.2" fill="#000"/>
<circle cx="261.93" cy="757.40" r="5.1" fill="#fff" stroke="#000" stroke-width="1.25"/>
<rect x="260.05" y="908.40" width="10.2" height="10.2" fill="#000"/>
<circle cx="268.38" cy="787.80" r="5.1" fill="#fff" stroke="#000" stroke-width="1.25"/>
<rect x="266.50" y="937.20" width="10.2" height="10.2" fill="#000"/>
<circle cx="274.83" cy="814.00" r="5.1" fill="#fff" stroke="#000" stroke-width="1.25"/>
<rect x="272.96" y="958.30" width="10.2" height="10.2" fill="#000"/>
<circle cx="281.28" cy="832.00" r="5.1" fill="#fff" stroke="#000" stroke-width="1.25"/>
<rect x="279.41" y="960.10" width="10.2" height="10.2" fill="#000"/>
<circle cx="287.74" cy="842.30" r="5.1" fill="#fff" stroke="#000" stroke-width="1.25"/>
<rect x="285.86" y="941.60" width="10.2" height="10.2" fill="#000"/>
<circle cx="294.19" cy="847.60" r="5.1" fill="#fff" stroke="#000" stroke-width="1.25"/>
<rect x="292.31" y="913.10" width="10.2" height="10.2" fill="#000"/>
<circle cx="300.64" cy="849.80" r="5.1" fill="#fff" stroke="#000" stroke-width="1.25"/>
<rect x="298.77" y="885.90" width="10.2" height="10.2" fill="#000"/>
<circle cx="307.09" cy="851.20" r="5.1" fill="#fff" stroke="#000" stroke-width="1.25"/>
<rect x="305.22" y="866.40" width="10.2" height="10.2" fill="#000"/>
<circle cx="313.55" cy="851.60" r="5.1" fill="#fff" stroke="#000" stroke-width="1.25"/>
<rect x="311.67" y="853.60" width="10.2" height="10.2" fill="#000"/>
<circle cx="320.00" cy="851.80" r="5.1" fill="#fff" stroke="#000" stroke-width="1.25"/>
<rect x="318.13" y="846.10" width="10.2" height="10.2" fill="#000"/>
<circle cx="326.45" cy="852.30" r="5.1" fill="#fff" stroke="#000" stroke-width="1.25"/>
<rect x="324.58" y="842.90" width="10.2" height="10.2" fill="#000"/>
<circle cx="332.90" cy="853.00" r="5.1" fill="#fff" stroke="#000" stroke-width="1.25"/>
<rect x="331.03" y="840.40" width="10.2" height="10.2" fill="#000"/>
<circle cx="339.36" cy="853.00" r="5.1" fill="#fff" stroke="#000" stroke-width="1.25"/>
<rect x="337.48" y="839.00" width="10.2" height="10.2" fill="#000"/>
<circle cx="345.81" cy="852.60" r="5.1" fill="#fff" stroke="#000" stroke-width="1.25"/>
<rect x="343.94" y="838.70" width="10.2" height="10.2" fill="#000"/>
<circle cx="352.26" cy="852.30" r="5.1" fill="#fff" stroke="#000" stroke-width="1.25"/>
<rect x="350.39" y="838.70" width="10.2" height="10.2" fill="#000"/>
<circle cx="358.71" cy="851.90" r="5.1" fill="#fff" stroke="#000" stroke-width="1.25"/>
<rect x="356.84" y="838.70" width="10.2" height="10.2" fill="#000"/>
<circle cx="365.17" cy="851.20" r="5.1" fill="#fff" stroke="#000" stroke-width="1.25"/>
<rect x="363.29" y="838.70" width="10.2" height="10.2" fill="#000"/>
<circle cx="371.62" cy="849.10" r="5.1" fill="#fff" stroke="#000" stroke-width="1.25"/>
<rect x="369.75" y="838.70" width="10.2" height="10.2" fill="#000"/>
<circle cx="378.07" cy="843.40" r="5.1" fill="#fff" stroke="#000" stroke-width="1.25"/>
<rect x="376.20" y="841.00" width="10.2" height="10.2" fill="#000"/>
<circle cx="384.53" cy="827.00" r="5.1" fill="#fff" stroke="#000" stroke-width="1.25"/>
<rect x="382.65" y="850.80" width="10.2" height="10.2" fill="#000"/>
<circle cx="390.98" cy="750.10" r="5.1" fill="#fff" stroke="#000" stroke-width="1.25"/>
<rect x="389.10" y="984.70" width="10.2" height="10.2" fill="#000"/>
<circle cx="397.43" cy="874.80" r="5.1" fill="#fff" stroke="#000" stroke-width="1.25"/>
<circle cx="403.88" cy="871.10" r="5.1" fill="#fff" stroke="#000" stroke-width="1.25"/>
<circle cx="410.34" cy="871.10" r="5.1" fill="#fff" stroke="#000" stroke-width="1.25"/>
<circle cx="416.79" cy="871.10" r="5.1" fill="#fff" stroke="#000" stroke-width="1.25"/>
<circle cx="423.24" cy="871.10" r="5.1" fill="#fff" stroke="#000" stroke-width="1.25"/>
<circle cx="429.69" cy="871.10" r="5.1" fill="#fff" stroke="#000" stroke-width="1.25"/>
<circle cx="436.15" cy="871.10" r="5.1" fill="#fff" stroke="#000" stroke-width="1.25"/>
<circle cx="442.60" cy="871.10" r="5.1" fill="#fff" stroke="#000" stroke-width="1.25"/>
<circle cx="449.05" cy="871.10" r="5.1" fill="#fff" stroke="#000" stroke-width="1.25"/>
<circle cx="455.50" cy="871.10" r="5.1" fill="#fff" stroke="#000" stroke-width="1.25"/>
<circle cx="461.96" cy="871.10" r="5.1" fill="#fff" stroke="#000" stroke-width="1.25"/>
<circle cx="468.41" cy="871.10" r="5.1" fill="#fff" stroke="#000" stroke-width="1.25"/>
<circle cx="474.86" cy="871.10" r="5.1" fill="#fff" stroke="#000" stroke-width="1.25"/>
<circle cx="481.31" cy="871.60" r="5.1" fill="#fff" stroke="#000" stroke-width="1.25"/>
<circle cx="487.77" cy="872.90" r="5.1" fill="#fff" stroke="#000" stroke-width="1.25"/>
<circle cx="494.22" cy="874.30" r="5.1" fill="#fff" stroke="#000" stroke-width="1.25"/>
<circle cx="500.67" cy="874.80" r="5.1" fill="#fff" stroke="#000" stroke-width="1.25"/>
<circle cx="507.12" cy="873.50" r="5.1" fill="#fff" stroke="#000" stroke-width="1.25"/>
<circle cx="513.58" cy="870.10" r="5.1" fill="#fff" stroke="#000" stroke-width="1.25"/>
<circle cx="520.03" cy="866.30" r="5.1" fill="#fff" stroke="#000" stroke-width="1.25"/>
<circle cx="526.48" cy="865.40" r="5.1" fill="#fff" stroke="#000" stroke-width="1.25"/>
<circle cx="532.93" cy="866.70" r="5.1" fill="#fff" stroke="#000" stroke-width="1.25"/>
<circle cx="539.39" cy="868.60" r="5.1" fill="#fff" stroke="#000" stroke-width="1.25"/>
<circle cx="545.84" cy="870.10" r="5.1" fill="#fff" stroke="#000" stroke-width="1.25"/>
<circle cx="552.29" cy="871.10" r="5.1" fill="#fff" stroke="#000" stroke-width="1.25"/>
<circle cx="558.75" cy="871.10" r="5.1" fill="#fff" stroke="#000" stroke-width="1.25"/>
<circle cx="565.20" cy="871.10" r="5.1" fill="#fff" stroke="#000" stroke-width="1.25"/>
<circle cx="571.65" cy="871.10" r="5.1" fill="#fff" stroke="#000" stroke-width="1.25"/>
<circle cx="578.10" cy="871.10" r="5.1" fill="#fff" stroke="#000" stroke-width="1.25"/>
<circle cx="584.56" cy="871.10" r="5.1" fill="#fff" stroke="#000" stroke-width="1.25"/>
<circle cx="591.01" cy="871.10" r="5.1" fill="#fff" stroke="#000" stroke-width="1.25"/>
<circle cx="597.46" cy="871.10" r="5.1" fill="#fff" stroke="#000" stroke-width="1.25"/>
<circle cx="603.91" cy="871.10" r="5.1" fill="#fff" stroke="#000" stroke-width="1.25"/>
<circle cx="610.37" cy="871.10" r="5.1" fill="#fff" stroke="#000" stroke-width="1.25"/>
<circle cx="616.82" cy="871.10" r="5.1" fill="#fff" stroke="#000" stroke-width="1.25"/>
<circle cx="623.27" cy="870.50" r="5.1" fill="#fff" stroke="#000" stroke-width="1.25"/>
<circle cx="629.72" cy="869.70" r="5.1" fill="#fff" stroke="#000" stroke-width="1.25"/>
<circle cx="636.18" cy="867.30" r="5.1" fill="#fff" stroke="#000" stroke-width="1.25"/>
<circle cx="642.63" cy="863.50" r="5.1" fill="#fff" stroke="#000" stroke-width="1.25"/>
<circle cx="649.08" cy="854.90" r="5.1" fill="#fff" stroke="#000" stroke-width="1.25"/>
</g>
<g clip-path="url(#cd)">
<path d="M831.11,276.22L832.01,282.58M834.34,282.58L835.24,276.22M837.06,276.27L838.98,300.53M840.29,300.53L842.21,276.27M843.24,276.29L845.72,330.91M846.47,330.91L848.95,276.29M849.56,276.30L852.32,372.90M852.79,372.90L855.55,275.30M855.95,275.30L858.84,415.70M859.18,415.70L862.07,272.80M862.39,272.80L865.33,441.70M865.61,441.70L868.56,267.50M868.85,267.50L871.78,434.90M872.06,434.90L875.02,254.30M875.32,254.30L878.22,401.70M878.53,401.70L881.47,230.30M881.80,230.30L884.66,357.70M885.00,357.70L887.93,195.50M888.27,195.50L891.12,319.70M891.45,319.70L894.39,147.50M894.70,147.50L897.60,291.70M897.89,291.70L900.87,94.40M901.13,94.40L904.08,271.70M904.34,271.70L907.34,52.60M907.57,52.60L910.56,260.50M910.80,260.50L913.80,44.70M914.03,44.70L917.02,254.50M917.28,254.50L920.23,75.20M920.51,75.20L923.46,255.70M923.78,255.70L926.64,127.50M927.01,127.50L929.88,257.20M930.34,257.20L933.00,180.30M933.57,180.30L936.24,258.70M937.00,258.71L939.27,219.49M940.22,219.49L942.51,259.91M943.82,259.94L945.36,245.06M947.05,245.06L948.59,259.94M950.98,260.05L951.11,259.35M954.21,259.35L954.34,260.05M1114.05,314.68L1114.22,315.12M1139.90,307.52L1140.04,307.18" fill="none" stroke="#ff0000" stroke-width="1.0" stroke-linecap="butt"/>
<circle cx="762.13" cy="268.20" r="5.1" fill="#fff" stroke="#ff0000" stroke-width="1.25"/>
<rect x="760.26" y="262.90" width="10.2" height="10.2" fill="#ff0000"/>
<circle cx="768.59" cy="268.20" r="5.1" fill="#fff" stroke="#ff0000" stroke-width="1.25"/>
<rect x="766.72" y="262.90" width="10.2" height="10.2" fill="#ff0000"/>
<circle cx="775.05" cy="268.20" r="5.1" fill="#fff" stroke="#ff0000" stroke-width="1.25"/>
<rect x="773.18" y="262.90" width="10.2" height="10.2" fill="#ff0000"/>
<circle cx="781.51" cy="268.20" r="5.1" fill="#fff" stroke="#ff0000" stroke-width="1.25"/>
<rect x="779.64" y="262.90" width="10.2" height="10.2" fill="#ff0000"/>
<circle cx="787.96" cy="268.20" r="5.1" fill="#fff" stroke="#ff0000" stroke-width="1.25"/>
<rect x="786.09" y="262.90" width="10.2" height="10.2" fill="#ff0000"/>
<circle cx="794.42" cy="268.20" r="5.1" fill="#fff" stroke="#ff0000" stroke-width="1.25"/>
<rect x="792.55" y="262.90" width="10.2" height="10.2" fill="#ff0000"/>
<circle cx="800.88" cy="268.20" r="5.1" fill="#fff" stroke="#ff0000" stroke-width="1.25"/>
<rect x="799.01" y="262.90" width="10.2" height="10.2" fill="#ff0000"/>
<circle cx="807.34" cy="268.20" r="5.1" fill="#fff" stroke="#ff0000" stroke-width="1.25"/>
<rect x="805.47" y="262.90" width="10.2" height="10.2" fill="#ff0000"/>
<circle cx="813.80" cy="268.20" r="5.1" fill="#fff" stroke="#ff0000" stroke-width="1.25"/>
<rect x="811.93" y="262.90" width="10.2" height="10.2" fill="#ff0000"/>
<circle cx="820.26" cy="272.80" r="5.1" fill="#fff" stroke="#ff0000" stroke-width="1.25"/>
<rect x="818.39" y="262.90" width="10.2" height="10.2" fill="#ff0000"/>
<circle cx="826.72" cy="280.00" r="5.1" fill="#fff" stroke="#ff0000" stroke-width="1.25"/>
<rect x="824.85" y="262.90" width="10.2" height="10.2" fill="#ff0000"/>
<circle cx="833.18" cy="290.80" r="5.1" fill="#fff" stroke="#ff0000" stroke-width="1.25"/>
<rect x="831.31" y="262.90" width="10.2" height="10.2" fill="#ff0000"/>
<circle cx="839.63" cy="308.80" r="5.1" fill="#fff" stroke="#ff0000" stroke-width="1.25"/>
<rect x="837.76" y="262.90" width="10.2" height="10.2" fill="#ff0000"/>
<circle cx="846.09" cy="339.20" r="5.1" fill="#fff" stroke="#ff0000" stroke-width="1.25"/>
<rect x="844.22" y="262.90" width="10.2" height="10.2" fill="#ff0000"/>
<circle cx="852.55" cy="381.20" r="5.1" fill="#fff" stroke="#ff0000" stroke-width="1.25"/>
<rect x="850.68" y="261.90" width="10.2" height="10.2" fill="#ff0000"/>
<circle cx="859.01" cy="424.00" r="5.1" fill="#fff" stroke="#ff0000" stroke-width="1.25"/>
<rect x="857.14" y="259.40" width="10.2" height="10.2" fill="#ff0000"/>
<circle cx="865.47" cy="450.00" r="5.1" fill="#fff" stroke="#ff0000" stroke-width="1.25"/>
<rect x="863.60" y="254.10" width="10.2" height="10.2" fill="#ff0000"/>
<circle cx="871.93" cy="443.20" r="5.1" fill="#fff" stroke="#ff0000" stroke-width="1.25"/>
<rect x="870.06" y="240.90" width="10.2" height="10.2" fill="#ff0000"/>
<circle cx="878.39" cy="410.00" r="5.1" fill="#fff" stroke="#ff0000" stroke-width="1.25"/>
<rect x="876.52" y="216.90" width="10.2" height="10.2" fill="#ff0000"/>
<circle cx="884.85" cy="366.00" r="5.1" fill="#fff" stroke="#ff0000" stroke-width="1.25"/>
<rect x="882.98" y="182.10" width="10.2" height="10.2" fill="#ff0000"/>
<circle cx="891.31" cy="328.00" r="5.1" fill="#fff" stroke="#ff0000" stroke-width="1.25"/>
<rect x="889.43" y="134.10" width="10.2" height="10.2" fill="#ff0000"/>
<circle cx="897.76" cy="300.00" r="5.1" fill="#fff" stroke="#ff0000" stroke-width="1.25"/>
<rect x="895.89" y="81.00" width="10.2" height="10.2" fill="#ff0000"/>
<circle cx="904.22" cy="280.00" r="5.1" fill="#fff" stroke="#ff0000" stroke-width="1.25"/>
<rect x="902.35" y="39.20" width="10.2" height="10.2" fill="#ff0000"/>
<circle cx="910.68" cy="268.80" r="5.1" fill="#fff" stroke="#ff0000" stroke-width="1.25"/>
<rect x="908.81" y="31.30" width="10.2" height="10.2" fill="#ff0000"/>
<circle cx="917.14" cy="262.80" r="5.1" fill="#fff" stroke="#ff0000" stroke-width="1.25"/>
<rect x="915.27" y="61.80" width="10.2" height="10.2" fill="#ff0000"/>
<circle cx="923.60" cy="264.00" r="5.1" fill="#fff" stroke="#ff0000" stroke-width="1.25"/>
<rect x="921.73" y="114.10" width="10.2" height="10.2" fill="#ff0000"/>
<circle cx="930.06" cy="265.50" r="5.1" fill="#fff" stroke="#ff0000" stroke-width="1.25"/>
<rect x="928.19" y="166.90" width="10.2" height="10.2" fill="#ff0000"/>
<circle cx="936.52" cy="267.00" r="5.1" fill="#fff" stroke="#ff0000" stroke-width="1.25"/>
<rect x="934.65" y="206.10" width="10.2" height="10.2" fill="#ff0000"/>
<circle cx="942.98" cy="268.20" r="5.1" fill="#fff" stroke="#ff0000" stroke-width="1.25"/>
<rect x="941.11" y="231.70" width="10.2" height="10.2" fill="#ff0000"/>
<circle cx="949.43" cy="268.20" r="5.1" fill="#fff" stroke="#ff0000" stroke-width="1.25"/>
<rect x="947.56" y="246.10" width="10.2" height="10.2" fill="#ff0000"/>
<circle cx="955.89" cy="268.20" r="5.1" fill="#fff" stroke="#ff0000" stroke-width="1.25"/>
<rect x="954.02" y="254.10" width="10.2" height="10.2" fill="#ff0000"/>
<circle cx="962.35" cy="268.20" r="5.1" fill="#fff" stroke="#ff0000" stroke-width="1.25"/>
<rect x="960.48" y="258.90" width="10.2" height="10.2" fill="#ff0000"/>
<circle cx="968.81" cy="268.20" r="5.1" fill="#fff" stroke="#ff0000" stroke-width="1.25"/>
<rect x="966.94" y="261.40" width="10.2" height="10.2" fill="#ff0000"/>
<circle cx="975.27" cy="268.20" r="5.1" fill="#fff" stroke="#ff0000" stroke-width="1.25"/>
<rect x="973.40" y="262.90" width="10.2" height="10.2" fill="#ff0000"/>
<circle cx="981.73" cy="268.20" r="5.1" fill="#fff" stroke="#ff0000" stroke-width="1.25"/>
<rect x="979.86" y="262.90" width="10.2" height="10.2" fill="#ff0000"/>
<circle cx="988.19" cy="268.20" r="5.1" fill="#fff" stroke="#ff0000" stroke-width="1.25"/>
<rect x="986.32" y="262.90" width="10.2" height="10.2" fill="#ff0000"/>
<circle cx="994.65" cy="268.20" r="5.1" fill="#fff" stroke="#ff0000" stroke-width="1.25"/>
<rect x="992.78" y="262.90" width="10.2" height="10.2" fill="#ff0000"/>
<circle cx="1001.11" cy="268.20" r="5.1" fill="#fff" stroke="#ff0000" stroke-width="1.25"/>
<rect x="999.23" y="262.90" width="10.2" height="10.2" fill="#ff0000"/>
<circle cx="1007.56" cy="268.20" r="5.1" fill="#fff" stroke="#ff0000" stroke-width="1.25"/>
<rect x="1005.69" y="262.90" width="10.2" height="10.2" fill="#ff0000"/>
<circle cx="1014.02" cy="268.20" r="5.1" fill="#fff" stroke="#ff0000" stroke-width="1.25"/>
<rect x="1012.15" y="262.90" width="10.2" height="10.2" fill="#ff0000"/>
<circle cx="1020.48" cy="268.20" r="5.1" fill="#fff" stroke="#ff0000" stroke-width="1.25"/>
<circle cx="1026.94" cy="268.20" r="5.1" fill="#fff" stroke="#ff0000" stroke-width="1.25"/>
<circle cx="1033.40" cy="268.20" r="5.1" fill="#fff" stroke="#ff0000" stroke-width="1.25"/>
<circle cx="1039.86" cy="268.20" r="5.1" fill="#fff" stroke="#ff0000" stroke-width="1.25"/>
<circle cx="1046.32" cy="268.20" r="5.1" fill="#fff" stroke="#ff0000" stroke-width="1.25"/>
<circle cx="1052.78" cy="268.20" r="5.1" fill="#fff" stroke="#ff0000" stroke-width="1.25"/>
<circle cx="1059.23" cy="268.20" r="5.1" fill="#fff" stroke="#ff0000" stroke-width="1.25"/>
<circle cx="1065.69" cy="268.20" r="5.1" fill="#fff" stroke="#ff0000" stroke-width="1.25"/>
<circle cx="1072.15" cy="268.20" r="5.1" fill="#fff" stroke="#ff0000" stroke-width="1.25"/>
<circle cx="1078.61" cy="270.10" r="5.1" fill="#fff" stroke="#ff0000" stroke-width="1.25"/>
<circle cx="1085.07" cy="272.90" r="5.1" fill="#fff" stroke="#ff0000" stroke-width="1.25"/>
<circle cx="1091.53" cy="275.80" r="5.1" fill="#fff" stroke="#ff0000" stroke-width="1.25"/>
<circle cx="1097.99" cy="282.40" r="5.1" fill="#fff" stroke="#ff0000" stroke-width="1.25"/>
<circle cx="1104.45" cy="292.80" r="5.1" fill="#fff" stroke="#ff0000" stroke-width="1.25"/>
<circle cx="1110.90" cy="307.00" r="5.1" fill="#fff" stroke="#ff0000" stroke-width="1.25"/>
<circle cx="1117.36" cy="322.80" r="5.1" fill="#fff" stroke="#ff0000" stroke-width="1.25"/>
<circle cx="1123.82" cy="330.70" r="5.1" fill="#fff" stroke="#ff0000" stroke-width="1.25"/>
<circle cx="1130.28" cy="327.90" r="5.1" fill="#fff" stroke="#ff0000" stroke-width="1.25"/>
<circle cx="1136.74" cy="315.20" r="5.1" fill="#fff" stroke="#ff0000" stroke-width="1.25"/>
<circle cx="1143.20" cy="299.50" r="5.1" fill="#fff" stroke="#ff0000" stroke-width="1.25"/>
<circle cx="1149.66" cy="286.80" r="5.1" fill="#fff" stroke="#ff0000" stroke-width="1.25"/>
<circle cx="1156.12" cy="277.70" r="5.1" fill="#fff" stroke="#ff0000" stroke-width="1.25"/>
<circle cx="1162.58" cy="271.60" r="5.1" fill="#fff" stroke="#ff0000" stroke-width="1.25"/>
<circle cx="1169.03" cy="268.60" r="5.1" fill="#fff" stroke="#ff0000" stroke-width="1.25"/>
<circle cx="1175.49" cy="267.30" r="5.1" fill="#fff" stroke="#ff0000" stroke-width="1.25"/>
<circle cx="1181.95" cy="266.70" r="5.1" fill="#fff" stroke="#ff0000" stroke-width="1.25"/>
<circle cx="1188.41" cy="267.30" r="5.1" fill="#fff" stroke="#ff0000" stroke-width="1.25"/>
<circle cx="1194.87" cy="267.60" r="5.1" fill="#fff" stroke="#ff0000" stroke-width="1.25"/>
<circle cx="1201.33" cy="268.20" r="5.1" fill="#fff" stroke="#ff0000" stroke-width="1.25"/>
<circle cx="1207.79" cy="268.20" r="5.1" fill="#fff" stroke="#ff0000" stroke-width="1.25"/>
<circle cx="1214.25" cy="268.20" r="5.1" fill="#fff" stroke="#ff0000" stroke-width="1.25"/>
<circle cx="1220.70" cy="268.20" r="5.1" fill="#fff" stroke="#ff0000" stroke-width="1.25"/>
<circle cx="1227.16" cy="268.20" r="5.1" fill="#fff" stroke="#ff0000" stroke-width="1.25"/>
<circle cx="1233.62" cy="268.20" r="5.1" fill="#fff" stroke="#ff0000" stroke-width="1.25"/>
<circle cx="1240.08" cy="268.20" r="5.1" fill="#fff" stroke="#ff0000" stroke-width="1.25"/>
<circle cx="1246.54" cy="268.20" r="5.1" fill="#fff" stroke="#ff0000" stroke-width="1.25"/>
<circle cx="1253.00" cy="268.20" r="5.1" fill="#fff" stroke="#ff0000" stroke-width="1.25"/>
<circle cx="1259.46" cy="268.20" r="5.1" fill="#fff" stroke="#ff0000" stroke-width="1.25"/>
<circle cx="1265.92" cy="268.20" r="5.1" fill="#fff" stroke="#ff0000" stroke-width="1.25"/>
<circle cx="1272.37" cy="268.20" r="5.1" fill="#fff" stroke="#ff0000" stroke-width="1.25"/>
</g>
<g clip-path="url(#ce)">
<path d="M837.67,772.00L838.37,767.50M840.85,767.51L841.65,772.89M843.57,772.83L845.39,751.37M846.77,751.37L848.65,774.23M849.74,774.21L852.13,727.19M852.96,727.19L855.37,776.01M856.05,776.00L858.74,692.30M859.27,692.30L861.98,778.80M862.44,778.80L865.28,657.50M865.66,657.50L868.51,785.20M868.86,785.20L871.77,637.90M872.08,637.90L875.01,799.50M875.31,799.50L878.23,644.10M878.53,644.10L881.48,822.60M881.78,822.60L884.69,673.00M884.98,673.00L887.94,854.60M888.24,854.60L891.14,709.40M891.44,709.40L894.40,889.80M894.70,889.80L897.60,740.50M897.90,740.50L900.85,914.70M901.15,914.70L904.06,762.30M904.38,762.30L907.30,916.80M907.62,916.80L910.51,774.80M910.88,774.80L913.72,895.10M914.12,895.10L916.94,781.00M917.42,781.00L920.09,859.90M920.66,859.91L923.31,784.09M924.04,784.09L926.39,828.21M927.28,828.21L929.61,785.69M930.83,785.66L932.52,803.94M934.09,803.94L935.72,787.16M938.01,787.07L938.26,788.43M941.24,788.43L941.49,787.07" fill="none" stroke="#000" stroke-width="1.0" stroke-linecap="butt"/>
<circle cx="762.13" cy="778.90" r="5.1" fill="#fff" stroke="#000" stroke-width="1.25"/>
<rect x="760.26" y="773.90" width="10.2" height="10.2" fill="#000"/>
<circle cx="768.59" cy="778.90" r="5.1" fill="#fff" stroke="#000" stroke-width="1.25"/>
<rect x="766.72" y="773.90" width="10.2" height="10.2" fill="#000"/>
<circle cx="775.05" cy="778.90" r="5.1" fill="#fff" stroke="#000" stroke-width="1.25"/>
<rect x="773.18" y="773.90" width="10.2" height="10.2" fill="#000"/>
<circle cx="781.51" cy="778.90" r="5.1" fill="#fff" stroke="#000" stroke-width="1.25"/>
<rect x="779.64" y="773.90" width="10.2" height="10.2" fill="#000"/>
<circle cx="787.96" cy="778.90" r="5.1" fill="#fff" stroke="#000" stroke-width="1.25"/>
<rect x="786.09" y="773.90" width="10.2" height="10.2" fill="#000"/>
<circle cx="794.42" cy="778.90" r="5.1" fill="#fff" stroke="#000" stroke-width="1.25"/>
<rect x="792.55" y="773.90" width="10.2" height="10.2" fill="#000"/>
<circle cx="800.88" cy="778.90" r="5.1" fill="#fff" stroke="#000" stroke-width="1.25"/>
<rect x="799.01" y="773.90" width="10.2" height="10.2" fill="#000"/>
<circle cx="807.34" cy="778.60" r="5.1" fill="#fff" stroke="#000" stroke-width="1.25"/>
<rect x="805.47" y="773.90" width="10.2" height="10.2" fill="#000"/>
<circle cx="813.80" cy="777.50" r="5.1" fill="#fff" stroke="#000" stroke-width="1.25"/>
<rect x="811.93" y="773.90" width="10.2" height="10.2" fill="#000"/>
<circle cx="820.26" cy="775.80" r="5.1" fill="#fff" stroke="#000" stroke-width="1.25"/>
<rect x="818.39" y="773.90" width="10.2" height="10.2" fill="#000"/>
<circle cx="826.72" cy="772.20" r="5.1" fill="#fff" stroke="#000" stroke-width="1.25"/>
<rect x="824.85" y="774.20" width="10.2" height="10.2" fill="#000"/>
<circle cx="833.18" cy="768.30" r="5.1" fill="#fff" stroke="#000" stroke-width="1.25"/>
<rect x="831.31" y="775.10" width="10.2" height="10.2" fill="#000"/>
<circle cx="839.63" cy="759.30" r="5.1" fill="#fff" stroke="#000" stroke-width="1.25"/>
<rect x="837.76" y="776.00" width="10.2" height="10.2" fill="#000"/>
<circle cx="846.09" cy="743.10" r="5.1" fill="#fff" stroke="#000" stroke-width="1.25"/>
<rect x="844.22" y="777.40" width="10.2" height="10.2" fill="#000"/>
<circle cx="852.55" cy="718.90" r="5.1" fill="#fff" stroke="#000" stroke-width="1.25"/>
<rect x="850.68" y="779.20" width="10.2" height="10.2" fill="#000"/>
<circle cx="859.01" cy="684.00" r="5.1" fill="#fff" stroke="#000" stroke-width="1.25"/>
<rect x="857.14" y="782.00" width="10.2" height="10.2" fill="#000"/>
<circle cx="865.47" cy="649.20" r="5.1" fill="#fff" stroke="#000" stroke-width="1.25"/>
<rect x="863.60" y="788.40" width="10.2" height="10.2" fill="#000"/>
<circle cx="871.93" cy="629.60" r="5.1" fill="#fff" stroke="#000" stroke-width="1.25"/>
<rect x="870.06" y="802.70" width="10.2" height="10.2" fill="#000"/>
<circle cx="878.39" cy="635.80" r="5.1" fill="#fff" stroke="#000" stroke-width="1.25"/>
<rect x="876.52" y="825.80" width="10.2" height="10.2" fill="#000"/>
<circle cx="884.85" cy="664.70" r="5.1" fill="#fff" stroke="#000" stroke-width="1.25"/>
<rect x="882.98" y="857.80" width="10.2" height="10.2" fill="#000"/>
<circle cx="891.31" cy="701.10" r="5.1" fill="#fff" stroke="#000" stroke-width="1.25"/>
<rect x="889.43" y="893.00" width="10.2" height="10.2" fill="#000"/>
<circle cx="897.76" cy="732.20" r="5.1" fill="#fff" stroke="#000" stroke-width="1.25"/>
<rect x="895.89" y="917.90" width="10.2" height="10.2" fill="#000"/>
<circle cx="904.22" cy="754.00" r="5.1" fill="#fff" stroke="#000" stroke-width="1.25"/>
<rect x="902.35" y="920.00" width="10.2" height="10.2" fill="#000"/>
<circle cx="910.68" cy="766.50" r="5.1" fill="#fff" stroke="#000" stroke-width="1.25"/>
<rect x="908.81" y="898.30" width="10.2" height="10.2" fill="#000"/>
<circle cx="917.14" cy="772.70" r="5.1" fill="#fff" stroke="#000" stroke-width="1.25"/>
<rect x="915.27" y="863.10" width="10.2" height="10.2" fill="#000"/>
<circle cx="923.60" cy="775.80" r="5.1" fill="#fff" stroke="#000" stroke-width="1.25"/>
<rect x="921.73" y="831.40" width="10.2" height="10.2" fill="#000"/>
<circle cx="930.06" cy="777.40" r="5.1" fill="#fff" stroke="#000" stroke-width="1.25"/>
<rect x="928.19" y="807.10" width="10.2" height="10.2" fill="#000"/>
<circle cx="936.52" cy="778.90" r="5.1" fill="#fff" stroke="#000" stroke-width="1.25"/>
<rect x="934.65" y="791.50" width="10.2" height="10.2" fill="#000"/>
<circle cx="942.98" cy="778.90" r="5.1" fill="#fff" stroke="#000" stroke-width="1.25"/>
<rect x="941.11" y="781.60" width="10.2" height="10.2" fill="#000"/>
<circle cx="949.43" cy="778.90" r="5.1" fill="#fff" stroke="#000" stroke-width="1.25"/>
<rect x="947.56" y="776.90" width="10.2" height="10.2" fill="#000"/>
<circle cx="955.89" cy="778.90" r="5.1" fill="#fff" stroke="#000" stroke-width="1.25"/>
<rect x="954.02" y="775.40" width="10.2" height="10.2" fill="#000"/>
<circle cx="962.35" cy="778.90" r="5.1" fill="#fff" stroke="#000" stroke-width="1.25"/>
<rect x="960.48" y="773.90" width="10.2" height="10.2" fill="#000"/>
<circle cx="968.81" cy="778.90" r="5.1" fill="#fff" stroke="#000" stroke-width="1.25"/>
<rect x="966.94" y="773.90" width="10.2" height="10.2" fill="#000"/>
<circle cx="975.27" cy="778.90" r="5.1" fill="#fff" stroke="#000" stroke-width="1.25"/>
<rect x="973.40" y="773.90" width="10.2" height="10.2" fill="#000"/>
<circle cx="981.73" cy="778.90" r="5.1" fill="#fff" stroke="#000" stroke-width="1.25"/>
<rect x="979.86" y="773.90" width="10.2" height="10.2" fill="#000"/>
<circle cx="988.19" cy="778.90" r="5.1" fill="#fff" stroke="#000" stroke-width="1.25"/>
<rect x="986.32" y="773.90" width="10.2" height="10.2" fill="#000"/>
<circle cx="994.65" cy="778.90" r="5.1" fill="#fff" stroke="#000" stroke-width="1.25"/>
<rect x="992.78" y="773.90" width="10.2" height="10.2" fill="#000"/>
<circle cx="1001.11" cy="778.90" r="5.1" fill="#fff" stroke="#000" stroke-width="1.25"/>
<rect x="999.23" y="773.90" width="10.2" height="10.2" fill="#000"/>
<circle cx="1007.56" cy="778.90" r="5.1" fill="#fff" stroke="#000" stroke-width="1.25"/>
<rect x="1005.69" y="773.90" width="10.2" height="10.2" fill="#000"/>
<circle cx="1014.02" cy="778.90" r="5.1" fill="#fff" stroke="#000" stroke-width="1.25"/>
<rect x="1012.15" y="773.90" width="10.2" height="10.2" fill="#000"/>
<circle cx="1020.48" cy="778.70" r="5.1" fill="#fff" stroke="#000" stroke-width="1.25"/>
<circle cx="1026.94" cy="778.70" r="5.1" fill="#fff" stroke="#000" stroke-width="1.25"/>
<circle cx="1033.40" cy="778.70" r="5.1" fill="#fff" stroke="#000" stroke-width="1.25"/>
<circle cx="1039.86" cy="778.70" r="5.1" fill="#fff" stroke="#000" stroke-width="1.25"/>
<circle cx="1046.32" cy="778.70" r="5.1" fill="#fff" stroke="#000" stroke-width="1.25"/>
<circle cx="1052.78" cy="778.70" r="5.1" fill="#fff" stroke="#000" stroke-width="1.25"/>
<circle cx="1059.23" cy="778.70" r="5.1" fill="#fff" stroke="#000" stroke-width="1.25"/>
<circle cx="1065.69" cy="778.70" r="5.1" fill="#fff" stroke="#000" stroke-width="1.25"/>
<circle cx="1072.15" cy="778.70" r="5.1" fill="#fff" stroke="#000" stroke-width="1.25"/>
<circle cx="1078.61" cy="778.70" r="5.1" fill="#fff" stroke="#000" stroke-width="1.25"/>
<circle cx="1085.07" cy="778.70" r="5.1" fill="#fff" stroke="#000" stroke-width="1.25"/>
<circle cx="1091.53" cy="778.70" r="5.1" fill="#fff" stroke="#000" stroke-width="1.25"/>
<circle cx="1097.99" cy="778.70" r="5.1" fill="#fff" stroke="#000" stroke-width="1.25"/>
<circle cx="1104.45" cy="778.70" r="5.1" fill="#fff" stroke="#000" stroke-width="1.25"/>
<circle cx="1110.90" cy="780.30" r="5.1" fill="#fff" stroke="#000" stroke-width="1.25"/>
<circle cx="1117.36" cy="782.10" r="5.1" fill="#fff" stroke="#000" stroke-width="1.25"/>
<circle cx="1123.82" cy="783.10" r="5.1" fill="#fff" stroke="#000" stroke-width="1.25"/>
<circle cx="1130.28" cy="781.60" r="5.1" fill="#fff" stroke="#000" stroke-width="1.25"/>
<circle cx="1136.74" cy="777.80" r="5.1" fill="#fff" stroke="#000" stroke-width="1.25"/>
<circle cx="1143.20" cy="773.60" r="5.1" fill="#fff" stroke="#000" stroke-width="1.25"/>
<circle cx="1149.66" cy="772.10" r="5.1" fill="#fff" stroke="#000" stroke-width="1.25"/>
<circle cx="1156.12" cy="774.00" r="5.1" fill="#fff" stroke="#000" stroke-width="1.25"/>
<circle cx="1162.58" cy="775.90" r="5.1" fill="#fff" stroke="#000" stroke-width="1.25"/>
<circle cx="1169.03" cy="777.80" r="5.1" fill="#fff" stroke="#000" stroke-width="1.25"/>
<circle cx="1175.49" cy="778.70" r="5.1" fill="#fff" stroke="#000" stroke-width="1.25"/>
<circle cx="1181.95" cy="778.70" r="5.1" fill="#fff" stroke="#000" stroke-width="1.25"/>
<circle cx="1188.41" cy="778.70" r="5.1" fill="#fff" stroke="#000" stroke-width="1.25"/>
<circle cx="1194.87" cy="778.70" r="5.1" fill="#fff" stroke="#000" stroke-width="1.25"/>
<circle cx="1201.33" cy="778.70" r="5.1" fill="#fff" stroke="#000" stroke-width="1.25"/>
<circle cx="1207.79" cy="778.70" r="5.1" fill="#fff" stroke="#000" stroke-width="1.25"/>
<circle cx="1214.25" cy="778.70" r="5.1" fill="#fff" stroke="#000" stroke-width="1.25"/>
<circle cx="1220.70" cy="778.70" r="5.1" fill="#fff" stroke="#000" stroke-width="1.25"/>
<circle cx="1227.16" cy="778.70" r="5.1" fill="#fff" stroke="#000" stroke-width="1.25"/>
<circle cx="1233.62" cy="778.70" r="5.1" fill="#fff" stroke="#000" stroke-width="1.25"/>
<circle cx="1240.08" cy="778.70" r="5.1" fill="#fff" stroke="#000" stroke-width="1.25"/>
<circle cx="1246.54" cy="778.70" r="5.1" fill="#fff" stroke="#000" stroke-width="1.25"/>
<circle cx="1253.00" cy="778.70" r="5.1" fill="#fff" stroke="#000" stroke-width="1.25"/>
<circle cx="1259.46" cy="778.70" r="5.1" fill="#fff" stroke="#000" stroke-width="1.25"/>
<circle cx="1265.92" cy="778.70" r="5.1" fill="#fff" stroke="#000" stroke-width="1.25"/>
<circle cx="1272.37" cy="778.70" r="5.1" fill="#fff" stroke="#000" stroke-width="1.25"/>
</g>
<line x1="394.5" y1="5.4" x2="394.5" y2="1023.6" stroke="#7a7a7a" stroke-width="1.15"/>
<line x1="1017.5" y1="4.7" x2="1017.5" y2="1021.5" stroke="#7a7a7a" stroke-width="1.15"/>
<text transform="translate(120.70,68.92) scale(0.96,1)" font-size="30.6" text-anchor="end" letter-spacing="-0.3">0.02</text>
<text transform="translate(120.70,182.80) scale(0.96,1)" font-size="30.6" text-anchor="end" letter-spacing="-0.3">0.00</text>
<text transform="translate(120.70,296.68) scale(0.96,1)" font-size="30.6" text-anchor="end" letter-spacing="-0.3">-0.02</text>
<text transform="translate(120.70,415.80) scale(0.96,1)" font-size="30.6" text-anchor="end" letter-spacing="-0.3">0.10</text>
<text transform="translate(120.70,477.90) scale(0.96,1)" font-size="30.6" text-anchor="end" letter-spacing="-0.3">0.05</text>
<text transform="translate(120.70,540.00) scale(0.96,1)" font-size="30.6" text-anchor="end" letter-spacing="-0.3">0.00</text>
<text transform="translate(120.70,602.10) scale(0.96,1)" font-size="30.6" text-anchor="end" letter-spacing="-0.3">-0.05</text>
<text transform="translate(120.70,664.20) scale(0.96,1)" font-size="30.6" text-anchor="end" letter-spacing="-0.3">-0.10</text>
<text transform="translate(120.70,353.70) scale(0.96,1)" font-size="30.6" text-anchor="end" letter-spacing="-0.3">0.15</text>
<text transform="translate(120.70,728.72) scale(0.96,1)" font-size="30.6" text-anchor="end" letter-spacing="-0.3">0.08</text>
<text transform="translate(120.70,796.96) scale(0.96,1)" font-size="30.6" text-anchor="end" letter-spacing="-0.3">0.04</text>
<text transform="translate(120.70,865.20) scale(0.96,1)" font-size="30.6" text-anchor="end" letter-spacing="-0.3">0.00</text>
<text transform="translate(120.70,933.44) scale(0.96,1)" font-size="30.6" text-anchor="end" letter-spacing="-0.3">-0.04</text>
<text transform="translate(120.70,1001.68) scale(0.96,1)" font-size="30.6" text-anchor="end" letter-spacing="-0.3">-0.08</text>
<text transform="translate(1290.80,72.90) scale(0.96,1)" font-size="30.6" text-anchor="start" letter-spacing="-0.3">0.10</text>
<text transform="translate(1290.80,175.10) scale(0.96,1)" font-size="30.6" text-anchor="start" letter-spacing="-0.3">0.05</text>
<text transform="translate(1290.80,277.30) scale(0.96,1)" font-size="30.6" text-anchor="start" letter-spacing="-0.3">0.00</text>
<text transform="translate(1290.80,379.50) scale(0.96,1)" font-size="30.6" text-anchor="start" letter-spacing="-0.3">-0.05</text>
<text transform="translate(1290.80,481.70) scale(0.96,1)" font-size="30.6" text-anchor="start" letter-spacing="-0.3">-0.10</text>
<text transform="translate(1290.80,583.70) scale(0.96,1)" font-size="30.6" text-anchor="start" letter-spacing="-0.3">0.10</text>
<text transform="translate(1290.80,685.90) scale(0.96,1)" font-size="30.6" text-anchor="start" letter-spacing="-0.3">0.05</text>
<text transform="translate(1290.80,788.10) scale(0.96,1)" font-size="30.6" text-anchor="start" letter-spacing="-0.3">0.00</text>
<text transform="translate(1290.80,890.30) scale(0.96,1)" font-size="30.6" text-anchor="start" letter-spacing="-0.3">-0.05</text>
<text transform="translate(1290.80,992.50) scale(0.96,1)" font-size="30.6" text-anchor="start" letter-spacing="-0.3">-0.10</text>
<text transform="translate(136.10,1064.00) scale(0.96,1)" font-size="30.6" text-anchor="middle" letter-spacing="-0.3">0</text>
<text transform="translate(200.63,1064.00) scale(0.96,1)" font-size="30.6" text-anchor="middle" letter-spacing="-0.3">20</text>
<text transform="translate(265.15,1064.00) scale(0.96,1)" font-size="30.6" text-anchor="middle" letter-spacing="-0.3">40</text>
<text transform="translate(329.68,1064.00) scale(0.96,1)" font-size="30.6" text-anchor="middle" letter-spacing="-0.3">60</text>
<text transform="translate(394.20,1064.00) scale(0.96,1)" font-size="30.6" text-anchor="middle" letter-spacing="-0.3">0(80)</text>
<text transform="translate(458.73,1064.00) scale(0.96,1)" font-size="30.6" text-anchor="middle" letter-spacing="-0.3">20</text>
<text transform="translate(523.26,1064.00) scale(0.96,1)" font-size="30.6" text-anchor="middle" letter-spacing="-0.3">40</text>
<text transform="translate(587.78,1064.00) scale(0.96,1)" font-size="30.6" text-anchor="middle" letter-spacing="-0.3">60</text>
<text transform="translate(652.31,1064.00) scale(0.96,1)" font-size="30.6" text-anchor="middle" letter-spacing="-0.3">80</text>
<text transform="translate(758.90,1062.50) scale(0.96,1)" font-size="30.6" text-anchor="middle" letter-spacing="-0.3">0</text>
<text transform="translate(823.49,1062.50) scale(0.96,1)" font-size="30.6" text-anchor="middle" letter-spacing="-0.3">20</text>
<text transform="translate(888.08,1062.50) scale(0.96,1)" font-size="30.6" text-anchor="middle" letter-spacing="-0.3">40</text>
<text transform="translate(952.66,1062.50) scale(0.96,1)" font-size="30.6" text-anchor="middle" letter-spacing="-0.3">60</text>
<text transform="translate(1017.25,1062.50) scale(0.96,1)" font-size="30.6" text-anchor="middle" letter-spacing="-0.3">0(80)</text>
<text transform="translate(1081.84,1062.50) scale(0.96,1)" font-size="30.6" text-anchor="middle" letter-spacing="-0.3">20</text>
<text transform="translate(1146.43,1062.50) scale(0.96,1)" font-size="30.6" text-anchor="middle" letter-spacing="-0.3">40</text>
<text transform="translate(1211.02,1062.50) scale(0.96,1)" font-size="30.6" text-anchor="middle" letter-spacing="-0.3">60</text>
<text transform="translate(1275.60,1062.50) scale(0.96,1)" font-size="30.6" text-anchor="middle" letter-spacing="-0.3">80</text>
<text x="332.00" y="1116.70" font-size="42" text-anchor="start" >site <tspan font-style="italic">i</tspan>(<tspan font-style="italic">i</tspan>R)</text>
<text x="957.20" y="1114.90" font-size="42" text-anchor="start" >site <tspan font-style="italic">i</tspan>(<tspan font-style="italic">i</tspan>R)</text>
<text x="150.50" y="43.00" font-size="25.7" text-anchor="start" >(a) GROUND</text>
<text x="148.80" y="390.90" font-size="25.5" text-anchor="start" >(b) ESU</text>
<text x="149.30" y="721.90" font-size="25.3" text-anchor="start" >(c) ESD</text>
<text x="774.00" y="44.00" font-size="30" text-anchor="start" >(d) ESU</text>
<text x="774.00" y="569.50" font-size="30" text-anchor="start" >(e) ESD</text>
<text x="477.00" y="201.60" font-size="30" text-anchor="start" >radicals</text>
<text x="470.80" y="513.10" font-size="30" text-anchor="start" >radicals</text>
<text x="486.00" y="845.00" font-size="30" text-anchor="start" >radicals</text>
<text x="1104.70" y="248.90" font-size="30" text-anchor="start" >radicals</text>
<text x="1104.70" y="749.40" font-size="30" text-anchor="start" >radicals</text>
<text transform="translate(21.60,244.00) rotate(-90)" font-size="45">ρ</text>
<text transform="translate(31.40,219.90) rotate(-90)" font-size="30.3">c,<tspan font-style="italic">i</tspan>(<tspan font-style="italic">i</tspan>R)</text>
<text transform="translate(21.60,579.00) rotate(-90)" font-size="45">ρ</text>
<text transform="translate(31.40,555.20) rotate(-90)" font-size="30.3">c,<tspan font-style="italic">i</tspan>(<tspan font-style="italic">i</tspan>R)</text>
<text transform="translate(23.30,908.60) rotate(-90)" font-size="45">ρ</text>
<text transform="translate(33.10,885.00) rotate(-90)" font-size="30.3">c,<tspan font-style="italic">i</tspan>(<tspan font-style="italic">i</tspan>R)</text>
<text transform="translate(1408.50,341.50) rotate(-90)" font-size="45">Δρ</text>
<text transform="translate(1418.50,290.00) rotate(-90)" font-size="30">c,<tspan font-style="italic">i</tspan>(<tspan font-style="italic">i</tspan>R)</text>
<text transform="translate(1407.00,821.50) rotate(-90)" font-size="45">Δρ</text>
<text transform="translate(1417.00,770.00) rotate(-90)" font-size="30">c,<tspan font-style="italic">i</tspan>(<tspan font-style="italic">i</tspan>R)</text>
</svg>
</body></html>
